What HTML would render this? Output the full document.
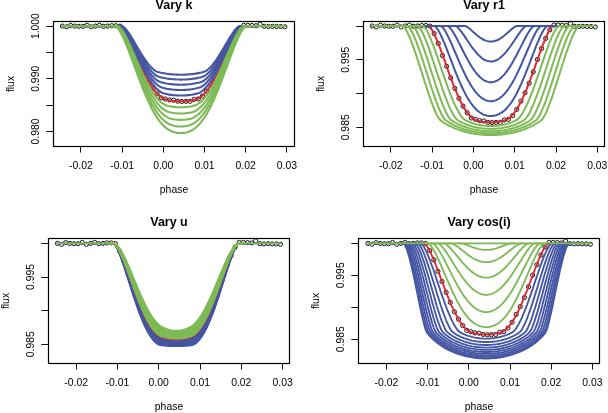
<!DOCTYPE html>
<html><head><meta charset="utf-8"><title>Vary parameters</title>
<style>html,body{margin:0;padding:0;background:#fff}svg{display:block}</style>
</head><body>
<svg width="608" height="413" viewBox="0 0 608 413">
<rect width="608" height="413" fill="#fff"/>
<g id="panel1">
<g fill="none" stroke="#000" stroke-width="0.9">
<circle cx="62.36" cy="26.10" r="2.1"/>
<circle cx="66.48" cy="26.80" r="2.1"/>
<circle cx="70.60" cy="25.48" r="2.1"/>
<circle cx="74.72" cy="26.10" r="2.1"/>
<circle cx="78.84" cy="26.33" r="2.1"/>
<circle cx="82.96" cy="26.33" r="2.1"/>
<circle cx="87.08" cy="25.32" r="2.1"/>
<circle cx="91.20" cy="26.80" r="2.1"/>
<circle cx="95.32" cy="26.10" r="2.1"/>
<circle cx="99.44" cy="25.32" r="2.1"/>
<circle cx="103.56" cy="26.33" r="2.1"/>
<circle cx="107.68" cy="26.10" r="2.1"/>
<circle cx="111.80" cy="25.71" r="2.1"/>
<circle cx="115.92" cy="25.71" r="2.1"/>
<circle cx="120.04" cy="26.17" r="2.1"/>
<circle cx="124.16" cy="32.02" r="2.1"/>
<circle cx="128.28" cy="39.67" r="2.1"/>
<circle cx="132.40" cy="49.16" r="2.1"/>
<circle cx="136.52" cy="57.54" r="2.1"/>
<circle cx="140.64" cy="66.51" r="2.1"/>
<circle cx="144.76" cy="74.78" r="2.1"/>
<circle cx="148.88" cy="82.51" r="2.1"/>
<circle cx="153.00" cy="88.62" r="2.1"/>
<circle cx="157.12" cy="93.86" r="2.1"/>
<circle cx="161.24" cy="97.86" r="2.1"/>
<circle cx="165.36" cy="98.96" r="2.1"/>
<circle cx="169.48" cy="99.92" r="2.1"/>
<circle cx="173.60" cy="100.19" r="2.1"/>
<circle cx="177.72" cy="101.23" r="2.1"/>
<circle cx="181.84" cy="101.49" r="2.1"/>
<circle cx="185.96" cy="101.34" r="2.1"/>
<circle cx="190.08" cy="101.28" r="2.1"/>
<circle cx="194.20" cy="99.41" r="2.1"/>
<circle cx="198.32" cy="98.94" r="2.1"/>
<circle cx="202.44" cy="96.02" r="2.1"/>
<circle cx="206.56" cy="91.18" r="2.1"/>
<circle cx="210.68" cy="84.69" r="2.1"/>
<circle cx="214.80" cy="78.23" r="2.1"/>
<circle cx="218.92" cy="70.75" r="2.1"/>
<circle cx="223.04" cy="61.89" r="2.1"/>
<circle cx="227.16" cy="52.24" r="2.1"/>
<circle cx="231.28" cy="43.67" r="2.1"/>
<circle cx="235.40" cy="35.79" r="2.1"/>
<circle cx="239.52" cy="29.08" r="2.1"/>
<circle cx="243.64" cy="25.32" r="2.1"/>
<circle cx="247.76" cy="25.32" r="2.1"/>
<circle cx="251.88" cy="25.48" r="2.1"/>
<circle cx="256.00" cy="25.71" r="2.1"/>
<circle cx="260.12" cy="24.15" r="2.1"/>
<circle cx="264.24" cy="26.33" r="2.1"/>
<circle cx="268.36" cy="26.49" r="2.1"/>
<circle cx="272.48" cy="26.33" r="2.1"/>
<circle cx="276.60" cy="26.49" r="2.1"/>
<circle cx="280.72" cy="26.49" r="2.1"/>
<circle cx="284.84" cy="26.80" r="2.1"/>
</g>
<g fill="none" stroke-linejoin="round" stroke-linecap="round">
<path d="M114.5,26.10 L115.9,26.10 L117.3,26.10 L118.7,26.13 L120.0,26.94 L121.4,28.34 L122.8,30.12 L124.2,32.20 L125.5,34.53 L126.9,37.04 L128.3,39.71 L129.7,42.51 L131.0,45.39 L132.4,48.36 L133.8,51.36 L135.1,54.39 L136.5,57.42 L137.9,60.44 L139.3,63.42 L140.6,66.36 L142.0,69.24 L143.4,72.04 L144.8,74.75 L146.1,77.36 L147.5,79.86 L148.9,82.25 L150.3,84.50 L151.6,86.62 L153.0,88.60 L154.4,90.44 L155.7,92.12 L157.1,93.65 L158.5,95.02 L159.9,96.24 L161.2,97.29 L162.6,98.18 L164.0,98.88 L165.4,99.34 L166.7,99.70 L168.1,100.02 L169.5,100.29 L170.9,100.54 L172.2,100.74 L173.6,100.92 L175.0,101.06 L176.3,101.17 L177.7,101.25 L179.1,101.30 L180.5,101.32 L181.8,101.32 L183.2,101.27 L184.6,101.20 L186.0,101.10 L187.3,100.97 L188.7,100.81 L190.1,100.62 L191.5,100.39 L192.8,100.13 L194.2,99.83 L195.6,99.48 L196.9,99.09 L198.3,98.47 L199.7,97.65 L201.1,96.66 L202.4,95.51 L203.8,94.19 L205.2,92.72 L206.6,91.10 L207.9,89.32 L209.3,87.40 L210.7,85.33 L212.1,83.12 L213.4,80.78 L214.8,78.33 L216.2,75.76 L217.5,73.08 L218.9,70.31 L220.3,67.47 L221.7,64.55 L223.0,61.58 L224.4,58.57 L225.8,55.54 L227.2,52.51 L228.5,49.49 L229.9,46.52 L231.3,43.60 L232.7,40.76 L234.0,38.04 L235.4,35.46 L236.8,33.06 L238.1,30.88 L239.5,28.98 L240.9,27.42 L242.3,26.35 L243.6,26.10 L245.0,26.10 L246.4,26.10" stroke="#DC2830" stroke-width="2.1"/>
<path d="M62.4,26.10 L63.7,26.10 L65.1,26.10 L66.5,26.10 L67.9,26.10 L69.2,26.10 L70.6,26.10 L72.0,26.10 L73.3,26.10 L74.7,26.10 L76.1,26.10 L77.5,26.10 L78.8,26.10 L80.2,26.10 L81.6,26.10 L83.0,26.10 L84.3,26.10 L85.7,26.10 L87.1,26.10 L88.5,26.10 L89.8,26.10 L91.2,26.10 L92.6,26.10 L93.9,26.10 L95.3,26.10 L96.7,26.10 L98.1,26.10 L99.4,26.10 L100.8,26.10 L102.2,26.10 L103.6,26.10 L104.9,26.10 L106.3,26.10 L107.7,26.10 L109.1,26.10 L110.4,26.10 L111.8,26.10 L113.2,26.10 L114.5,26.10 L115.9,26.10 L117.3,26.10 L118.7,26.10 L120.0,26.10 L121.4,26.10 L122.8,26.47 L124.2,27.50 L125.5,28.89 L126.9,30.55 L128.3,32.42 L129.7,34.44 L131.0,36.59 L132.4,38.83 L133.8,41.14 L135.1,43.47 L136.5,45.83 L137.9,48.18 L139.3,50.51 L140.6,52.79 L142.0,55.02 L143.4,57.17 L144.8,59.24 L146.1,61.20 L147.5,63.05 L148.9,64.78 L150.3,66.37 L151.6,67.81 L153.0,69.09 L154.4,70.19 L155.7,71.10 L157.1,71.68 L158.5,72.08 L159.9,72.43 L161.2,72.75 L162.6,73.03 L164.0,73.29 L165.4,73.53 L166.7,73.74 L168.1,73.92 L169.5,74.09 L170.9,74.24 L172.2,74.36 L173.6,74.47 L175.0,74.55 L176.3,74.62 L177.7,74.67 L179.1,74.70 L180.5,74.71 L181.8,74.71 L183.2,74.69 L184.6,74.64 L186.0,74.58 L187.3,74.50 L188.7,74.40 L190.1,74.29 L191.5,74.15 L192.8,73.99 L194.2,73.81 L195.6,73.61 L196.9,73.39 L198.3,73.14 L199.7,72.86 L201.1,72.55 L202.4,72.22 L203.8,71.84 L205.2,71.37 L206.6,70.57 L207.9,69.53 L209.3,68.31 L210.7,66.93 L212.1,65.40 L213.4,63.72 L214.8,61.92 L216.2,60.00 L217.5,57.97 L218.9,55.85 L220.3,53.64 L221.7,51.38 L223.0,49.07 L224.4,46.73 L225.8,44.37 L227.2,42.02 L228.5,39.70 L229.9,37.43 L231.3,35.24 L232.7,33.17 L234.0,31.24 L235.4,29.49 L236.8,27.99 L238.1,26.81 L239.5,26.11 L240.9,26.10 L242.3,26.10 L243.6,26.10 L245.0,26.10 L246.4,26.10 L247.8,26.10 L249.1,26.10 L250.5,26.10 L251.9,26.10 L253.3,26.10 L254.6,26.10 L256.0,26.10 L257.4,26.10 L258.7,26.10 L260.1,26.10 L261.5,26.10 L262.9,26.10 L264.2,26.10 L265.6,26.10 L267.0,26.10 L268.4,26.10 L269.7,26.10 L271.1,26.10 L272.5,26.10 L273.9,26.10 L275.2,26.10 L276.6,26.10 L278.0,26.10 L279.3,26.10 L280.7,26.10 L282.1,26.10 L283.5,26.10 L284.8,26.10" stroke="#4456A3" stroke-width="2.1"/>
<path d="M117.3,26.10 L118.7,26.10 L120.0,26.10 L121.4,26.15 L122.8,26.94 L124.2,28.20 L125.5,29.79 L126.9,31.63 L128.3,33.66 L129.7,35.84 L131.0,38.13 L132.4,40.52 L133.8,42.96 L135.1,45.44 L136.5,47.93 L137.9,50.41 L139.3,52.86 L140.6,55.28 L142.0,57.64 L143.4,59.91 L144.8,62.11 L146.1,64.21 L147.5,66.18 L148.9,68.05 L150.3,69.78 L151.6,71.36 L153.0,72.79 L154.4,74.07 L155.7,75.16 L157.1,76.05 L158.5,76.64 L159.9,77.04 L161.2,77.40 L162.6,77.72 L164.0,78.01 L165.4,78.27 L166.7,78.51 L168.1,78.71 L169.5,78.90 L170.9,79.06 L172.2,79.20 L173.6,79.32 L175.0,79.42 L176.3,79.49 L177.7,79.55 L179.1,79.57 L180.5,79.59 L181.8,79.59 L183.2,79.56 L184.6,79.51 L186.0,79.44 L187.3,79.35 L188.7,79.25 L190.1,79.12 L191.5,78.97 L192.8,78.79 L194.2,78.59 L195.6,78.36 L196.9,78.11 L198.3,77.83 L199.7,77.52 L201.1,77.18 L202.4,76.80 L203.8,76.32 L205.2,75.52 L206.6,74.51 L207.9,73.30 L209.3,71.93 L210.7,70.40 L212.1,68.72 L213.4,66.91 L214.8,64.97 L216.2,62.92 L217.5,60.76 L218.9,58.51 L220.3,56.18 L221.7,53.79 L223.0,51.35 L224.4,48.87 L225.8,46.38 L227.2,43.90 L228.5,41.44 L229.9,39.04 L231.3,36.70 L232.7,34.48 L234.0,32.38 L235.4,30.47 L236.8,28.78 L238.1,27.38 L239.5,26.38 L240.9,26.10 L242.3,26.10 L243.6,26.10" stroke="#4456A3" stroke-width="2.1"/>
<path d="M117.3,26.10 L118.7,26.10 L120.0,26.10 L121.4,26.47 L122.8,27.55 L124.2,29.03 L125.5,30.81 L126.9,32.82 L128.3,35.01 L129.7,37.35 L131.0,39.79 L132.4,42.32 L133.8,44.90 L135.1,47.51 L136.5,50.13 L137.9,52.75 L139.3,55.34 L140.6,57.88 L142.0,60.36 L143.4,62.78 L144.8,65.10 L146.1,67.32 L147.5,69.44 L148.9,71.43 L150.3,73.30 L151.6,75.02 L153.0,76.60 L154.4,78.01 L155.7,79.28 L157.1,80.35 L158.5,81.24 L159.9,81.85 L161.2,82.25 L162.6,82.61 L164.0,82.94 L165.4,83.23 L166.7,83.49 L168.1,83.72 L169.5,83.93 L170.9,84.11 L172.2,84.26 L173.6,84.39 L175.0,84.50 L176.3,84.58 L177.7,84.64 L179.1,84.68 L180.5,84.69 L181.8,84.69 L183.2,84.66 L184.6,84.60 L186.0,84.53 L187.3,84.43 L188.7,84.31 L190.1,84.17 L191.5,84.00 L192.8,83.80 L194.2,83.58 L195.6,83.33 L196.9,83.05 L198.3,82.74 L199.7,82.40 L201.1,82.01 L202.4,81.51 L203.8,80.72 L205.2,79.71 L206.6,78.52 L207.9,77.16 L209.3,75.63 L210.7,73.97 L212.1,72.16 L213.4,70.21 L214.8,68.14 L216.2,65.96 L217.5,63.67 L218.9,61.29 L220.3,58.83 L221.7,56.30 L223.0,53.73 L224.4,51.13 L225.8,48.51 L227.2,45.89 L228.5,43.29 L229.9,40.74 L231.3,38.26 L232.7,35.88 L234.0,33.64 L235.4,31.55 L236.8,29.68 L238.1,28.07 L239.5,26.82 L240.9,26.11 L242.3,26.10 L243.6,26.10 L245.0,26.10" stroke="#4456A3" stroke-width="2.1"/>
<path d="M115.9,26.10 L117.3,26.10 L118.7,26.10 L120.0,26.14 L121.4,26.95 L122.8,28.29 L124.2,29.97 L125.5,31.94 L126.9,34.12 L128.3,36.47 L129.7,38.96 L131.0,41.55 L132.4,44.22 L133.8,46.94 L135.1,49.69 L136.5,52.45 L137.9,55.20 L139.3,57.92 L140.6,60.59 L142.0,63.21 L143.4,65.74 L144.8,68.20 L146.1,70.56 L147.5,72.79 L148.9,74.92 L150.3,76.92 L151.6,78.77 L153.0,80.49 L154.4,82.06 L155.7,83.47 L157.1,84.71 L158.5,85.78 L159.9,86.66 L161.2,87.30 L162.6,87.71 L164.0,88.07 L165.4,88.40 L166.7,88.69 L168.1,88.94 L169.5,89.17 L170.9,89.37 L172.2,89.54 L173.6,89.68 L175.0,89.80 L176.3,89.89 L177.7,89.96 L179.1,90.00 L180.5,90.01 L181.8,90.01 L183.2,89.98 L184.6,89.92 L186.0,89.84 L187.3,89.73 L188.7,89.60 L190.1,89.44 L191.5,89.25 L192.8,89.03 L194.2,88.79 L195.6,88.51 L196.9,88.20 L198.3,87.85 L199.7,87.46 L201.1,86.95 L202.4,86.14 L203.8,85.14 L205.2,83.96 L206.6,82.61 L207.9,81.11 L209.3,79.45 L210.7,77.65 L212.1,75.70 L213.4,73.62 L214.8,71.42 L216.2,69.11 L217.5,66.69 L218.9,64.18 L220.3,61.60 L221.7,58.94 L223.0,56.24 L224.4,53.49 L225.8,50.74 L227.2,47.98 L228.5,45.25 L229.9,42.56 L231.3,39.93 L232.7,37.40 L234.0,34.99 L235.4,32.75 L236.8,30.70 L238.1,28.89 L239.5,27.41 L240.9,26.36 L242.3,26.10 L243.6,26.10 L245.0,26.10" stroke="#4456A3" stroke-width="2.1"/>
<path d="M115.9,26.10 L117.3,26.10 L118.7,26.10 L120.0,26.45 L121.4,27.58 L122.8,29.15 L124.2,31.04 L125.5,33.18 L126.9,35.52 L128.3,38.04 L129.7,40.68 L131.0,43.42 L132.4,46.23 L133.8,49.10 L135.1,51.98 L136.5,54.88 L137.9,57.76 L139.3,60.62 L140.6,63.42 L142.0,66.16 L143.4,68.84 L144.8,71.42 L146.1,73.90 L147.5,76.28 L148.9,78.53 L150.3,80.66 L151.6,82.65 L153.0,84.50 L154.4,86.19 L155.7,87.75 L157.1,89.13 L158.5,90.37 L159.9,91.43 L161.2,92.31 L162.6,92.99 L164.0,93.41 L165.4,93.77 L166.7,94.09 L168.1,94.38 L169.5,94.63 L170.9,94.85 L172.2,95.03 L173.6,95.19 L175.0,95.32 L176.3,95.42 L177.7,95.50 L179.1,95.54 L180.5,95.56 L181.8,95.55 L183.2,95.52 L184.6,95.45 L186.0,95.36 L187.3,95.25 L188.7,95.10 L190.1,94.92 L191.5,94.72 L192.8,94.47 L194.2,94.20 L195.6,93.89 L196.9,93.55 L198.3,93.16 L199.7,92.60 L201.1,91.79 L202.4,90.79 L203.8,89.62 L205.2,88.30 L206.6,86.81 L207.9,85.16 L209.3,83.36 L210.7,81.43 L212.1,79.36 L213.4,77.15 L214.8,74.82 L216.2,72.38 L217.5,69.83 L218.9,67.19 L220.3,64.47 L221.7,61.68 L223.0,58.85 L224.4,55.98 L225.8,53.09 L227.2,50.19 L228.5,47.32 L229.9,44.48 L231.3,41.71 L232.7,39.03 L234.0,36.47 L235.4,34.05 L236.8,31.82 L238.1,29.83 L239.5,28.13 L240.9,26.82 L242.3,26.10 L243.6,26.10 L245.0,26.10" stroke="#4456A3" stroke-width="2.1"/>
<path d="M62.4,26.10 L63.7,26.10 L65.1,26.10 L66.5,26.10 L67.9,26.10 L69.2,26.10 L70.6,26.10 L72.0,26.10 L73.3,26.10 L74.7,26.10 L76.1,26.10 L77.5,26.10 L78.8,26.10 L80.2,26.10 L81.6,26.10 L83.0,26.10 L84.3,26.10 L85.7,26.10 L87.1,26.10 L88.5,26.10 L89.8,26.10 L91.2,26.10 L92.6,26.10 L93.9,26.10 L95.3,26.10 L96.7,26.10 L98.1,26.10 L99.4,26.10 L100.8,26.10 L102.2,26.10 L103.6,26.10 L104.9,26.10 L106.3,26.10 L107.7,26.10 L109.1,26.10 L110.4,26.10 L111.8,26.10 L113.2,26.10 L114.5,26.10 L115.9,26.10 L117.3,26.10 L118.7,26.42 L120.0,27.59 L121.4,29.23 L122.8,31.22 L124.2,33.49 L125.5,35.99 L126.9,38.66 L128.3,41.50 L129.7,44.45 L131.0,47.49 L132.4,50.59 L133.8,53.74 L135.1,56.90 L136.5,60.08 L137.9,63.23 L139.3,66.35 L140.6,69.42 L142.0,72.43 L143.4,75.36 L144.8,78.20 L146.1,80.94 L147.5,83.57 L148.9,86.08 L150.3,88.47 L151.6,90.72 L153.0,92.82 L154.4,94.78 L155.7,96.60 L157.1,98.25 L158.5,99.77 L159.9,101.12 L161.2,102.31 L162.6,103.35 L164.0,104.24 L165.4,104.97 L166.7,105.50 L168.1,105.86 L169.5,106.16 L170.9,106.43 L172.2,106.66 L173.6,106.85 L175.0,107.01 L176.3,107.13 L177.7,107.22 L179.1,107.28 L180.5,107.30 L181.8,107.29 L183.2,107.25 L184.6,107.17 L186.0,107.06 L187.3,106.92 L188.7,106.73 L190.1,106.53 L191.5,106.27 L192.8,105.98 L194.2,105.64 L195.6,105.19 L196.9,104.54 L198.3,103.71 L199.7,102.73 L201.1,101.59 L202.4,100.29 L203.8,98.85 L205.2,97.25 L206.6,95.49 L207.9,93.58 L209.3,91.53 L210.7,89.33 L212.1,87.01 L213.4,84.54 L214.8,81.96 L216.2,79.26 L217.5,76.45 L218.9,73.55 L220.3,70.57 L221.7,67.52 L223.0,64.42 L224.4,61.28 L225.8,58.11 L227.2,54.94 L228.5,51.78 L229.9,48.66 L231.3,45.59 L232.7,42.60 L234.0,39.73 L235.4,36.98 L236.8,34.41 L238.1,32.05 L239.5,29.94 L240.9,28.17 L242.3,26.80 L243.6,26.10 L245.0,26.10 L246.4,26.10 L247.8,26.10 L249.1,26.10 L250.5,26.10 L251.9,26.10 L253.3,26.10 L254.6,26.10 L256.0,26.10 L257.4,26.10 L258.7,26.10 L260.1,26.10 L261.5,26.10 L262.9,26.10 L264.2,26.10 L265.6,26.10 L267.0,26.10 L268.4,26.10 L269.7,26.10 L271.1,26.10 L272.5,26.10 L273.9,26.10 L275.2,26.10 L276.6,26.10 L278.0,26.10 L279.3,26.10 L280.7,26.10 L282.1,26.10 L283.5,26.10 L284.8,26.10" stroke="#7DBA55" stroke-width="2.1"/>
<path d="M113.2,26.10 L114.5,26.10 L115.9,26.10 L117.3,26.11 L118.7,26.92 L120.0,28.36 L121.4,30.23 L122.8,32.42 L124.2,34.88 L125.5,37.55 L126.9,40.40 L128.3,43.39 L129.7,46.49 L131.0,49.68 L132.4,52.93 L133.8,56.22 L135.1,59.54 L136.5,62.84 L137.9,66.13 L139.3,69.39 L140.6,72.59 L142.0,75.73 L143.4,78.79 L144.8,81.76 L146.1,84.64 L147.5,87.39 L148.9,90.03 L150.3,92.54 L151.6,94.91 L153.0,97.15 L154.4,99.24 L155.7,101.18 L157.1,102.97 L158.5,104.60 L159.9,106.08 L161.2,107.41 L162.6,108.59 L164.0,109.62 L165.4,110.50 L166.7,111.23 L168.1,111.82 L169.5,112.23 L170.9,112.53 L172.2,112.78 L173.6,113.00 L175.0,113.17 L176.3,113.30 L177.7,113.40 L179.1,113.46 L180.5,113.48 L181.8,113.48 L183.2,113.43 L184.6,113.34 L186.0,113.22 L187.3,113.06 L188.7,112.87 L190.1,112.63 L191.5,112.35 L192.8,112.01 L194.2,111.47 L195.6,110.80 L196.9,109.97 L198.3,108.99 L199.7,107.87 L201.1,106.61 L202.4,105.18 L203.8,103.61 L205.2,101.87 L206.6,99.99 L207.9,97.96 L209.3,95.78 L210.7,93.46 L212.1,91.00 L213.4,88.41 L214.8,85.70 L216.2,82.87 L217.5,79.94 L218.9,76.90 L220.3,73.80 L221.7,70.61 L223.0,67.38 L224.4,64.09 L225.8,60.79 L227.2,57.48 L228.5,54.18 L229.9,50.91 L231.3,47.70 L232.7,44.56 L234.0,41.52 L235.4,38.62 L236.8,35.87 L238.1,33.33 L239.5,31.03 L240.9,29.03 L242.3,27.41 L243.6,26.31 L245.0,26.10 L246.4,26.10 L247.8,26.10" stroke="#7DBA55" stroke-width="2.1"/>
<path d="M113.2,26.10 L114.5,26.10 L115.9,26.10 L117.3,26.38 L118.7,27.57 L120.0,29.27 L121.4,31.36 L122.8,33.75 L124.2,36.39 L125.5,39.23 L126.9,42.24 L128.3,45.39 L129.7,48.65 L131.0,51.99 L132.4,55.39 L133.8,58.82 L135.1,62.27 L136.5,65.72 L137.9,69.15 L139.3,72.54 L140.6,75.88 L142.0,79.15 L143.4,82.35 L144.8,85.45 L146.1,88.45 L147.5,91.33 L148.9,94.10 L150.3,96.73 L151.6,99.23 L153.0,101.59 L154.4,103.80 L155.7,105.87 L157.1,107.77 L158.5,109.53 L159.9,111.14 L161.2,112.58 L162.6,113.89 L164.0,115.04 L165.4,116.05 L166.7,116.92 L168.1,117.66 L169.5,118.27 L170.9,118.75 L172.2,119.10 L173.6,119.33 L175.0,119.52 L176.3,119.67 L177.7,119.78 L179.1,119.85 L180.5,119.87 L181.8,119.86 L183.2,119.81 L184.6,119.71 L186.0,119.59 L187.3,119.41 L188.7,119.19 L190.1,118.90 L191.5,118.46 L192.8,117.90 L194.2,117.22 L195.6,116.39 L196.9,115.44 L198.3,114.35 L199.7,113.10 L201.1,111.70 L202.4,110.16 L203.8,108.46 L205.2,106.61 L206.6,104.60 L207.9,102.45 L209.3,100.14 L210.7,97.70 L212.1,95.12 L213.4,92.40 L214.8,89.56 L216.2,86.60 L217.5,83.54 L218.9,80.38 L220.3,77.13 L221.7,73.81 L223.0,70.44 L224.4,67.03 L225.8,63.59 L227.2,60.13 L228.5,56.69 L229.9,53.27 L231.3,49.91 L232.7,46.62 L234.0,43.43 L235.4,40.35 L236.8,37.44 L238.1,34.72 L239.5,32.23 L240.9,30.03 L242.3,28.17 L243.6,26.76 L245.0,26.10 L246.4,26.10 L247.8,26.10" stroke="#7DBA55" stroke-width="2.1"/>
<path d="M113.2,26.10 L114.5,26.10 L115.9,26.10 L117.3,26.88 L118.7,28.36 L120.0,30.30 L121.4,32.60 L122.8,35.18 L124.2,37.99 L125.5,41.01 L126.9,44.19 L128.3,47.50 L129.7,50.91 L131.0,54.40 L132.4,57.95 L133.8,61.53 L135.1,65.13 L136.5,68.72 L137.9,72.28 L139.3,75.81 L140.6,79.28 L142.0,82.69 L143.4,86.01 L144.8,89.24 L146.1,92.37 L147.5,95.38 L148.9,98.28 L150.3,101.04 L151.6,103.66 L153.0,106.14 L154.4,108.48 L155.7,110.66 L157.1,112.69 L158.5,114.56 L159.9,116.29 L161.2,117.86 L162.6,119.28 L164.0,120.55 L165.4,121.67 L166.7,122.66 L168.1,123.50 L169.5,124.23 L170.9,124.84 L172.2,125.33 L173.6,125.72 L175.0,126.02 L176.3,126.22 L177.7,126.36 L179.1,126.43 L180.5,126.46 L181.8,126.45 L183.2,126.39 L184.6,126.29 L186.0,126.10 L187.3,125.84 L188.7,125.49 L190.1,125.04 L191.5,124.48 L192.8,123.80 L194.2,123.00 L195.6,122.06 L196.9,120.99 L198.3,119.77 L199.7,118.41 L201.1,116.90 L202.4,115.24 L203.8,113.42 L205.2,111.45 L206.6,109.32 L207.9,107.05 L209.3,104.62 L210.7,102.06 L212.1,99.34 L213.4,96.50 L214.8,93.53 L216.2,90.45 L217.5,87.26 L218.9,83.96 L220.3,80.59 L221.7,77.14 L223.0,73.63 L224.4,70.07 L225.8,66.49 L227.2,62.90 L228.5,59.31 L229.9,55.75 L231.3,52.24 L232.7,48.79 L234.0,45.43 L235.4,42.21 L236.8,39.12 L238.1,36.22 L239.5,33.55 L240.9,31.13 L242.3,29.05 L243.6,27.38 L245.0,26.27 L246.4,26.10 L247.8,26.10 L249.1,26.10" stroke="#7DBA55" stroke-width="2.1"/>
<path d="M111.8,26.10 L113.2,26.10 L114.5,26.10 L115.9,26.34 L117.3,27.53 L118.7,29.28 L120.0,31.45 L121.4,33.95 L122.8,36.73 L124.2,39.72 L125.5,42.91 L126.9,46.25 L128.3,49.73 L129.7,53.29 L131.0,56.94 L132.4,60.63 L133.8,64.36 L135.1,68.09 L136.5,71.83 L137.9,75.53 L139.3,79.20 L140.6,82.81 L142.0,86.34 L143.4,89.80 L144.8,93.16 L146.1,96.42 L147.5,99.56 L148.9,102.58 L150.3,105.46 L151.6,108.21 L153.0,110.81 L154.4,113.26 L155.7,115.57 L157.1,117.71 L158.5,119.71 L159.9,121.55 L161.2,123.22 L162.6,124.75 L164.0,126.13 L165.4,127.36 L166.7,128.45 L168.1,129.41 L169.5,130.23 L170.9,130.92 L172.2,131.51 L173.6,131.99 L175.0,132.37 L176.3,132.66 L177.7,132.86 L179.1,132.98 L180.5,133.03 L181.8,133.01 L183.2,132.91 L184.6,132.73 L186.0,132.49 L187.3,132.15 L188.7,131.70 L190.1,131.16 L191.5,130.51 L192.8,129.73 L194.2,128.83 L195.6,127.79 L196.9,126.61 L198.3,125.30 L199.7,123.83 L201.1,122.20 L202.4,120.42 L203.8,118.49 L205.2,116.40 L206.6,114.16 L207.9,111.76 L209.3,109.21 L210.7,106.52 L212.1,103.69 L213.4,100.72 L214.8,97.63 L216.2,94.41 L217.5,91.09 L218.9,87.67 L220.3,84.16 L221.7,80.57 L223.0,76.93 L224.4,73.24 L225.8,69.51 L227.2,65.78 L228.5,62.05 L229.9,58.33 L231.3,54.67 L232.7,51.07 L234.0,47.56 L235.4,44.16 L236.8,40.91 L238.1,37.84 L239.5,34.97 L240.9,32.37 L242.3,30.06 L243.6,28.14 L245.0,26.71 L246.4,26.10 L247.8,26.10 L249.1,26.10" stroke="#7DBA55" stroke-width="2.1"/>
</g>
<rect x="53.5" y="21.5" width="241.0" height="125.0" fill="none" stroke="#000" stroke-width="1.2"/>
<g stroke="#000" stroke-width="1.2" fill="none">
<path d="M80.90,146.5 L286.90,146.5"/>
</g>
<g stroke="#111" stroke-width="1" fill="none">
<path d="M80.5,146.5 v6.0"/>
<path d="M122.5,146.5 v6.0"/>
<path d="M163.5,146.5 v6.0"/>
<path d="M204.5,146.5 v6.0"/>
<path d="M245.5,146.5 v6.0"/>
<path d="M286.5,146.5 v6.0"/>
<path d="M53.5,26.5 h-7.2"/>
<path d="M53.5,52.5 h-7.2"/>
<path d="M53.5,78.5 h-7.2"/>
<path d="M53.5,105.5 h-7.2"/>
<path d="M53.5,131.5 h-7.2"/>
</g>
<g font-family="Liberation Sans, sans-serif" font-size="10.4" fill="#000" text-anchor="middle">
<text x="80.90" y="168.5">-0.02</text>
<text x="122.10" y="168.5">-0.01</text>
<text x="163.30" y="168.5">0.00</text>
<text x="204.50" y="168.5">0.01</text>
<text x="245.70" y="168.5">0.02</text>
<text x="286.90" y="168.5">0.03</text>
<text x="174.0" y="192.8">phase</text>
<text transform="translate(38.9,26.10) rotate(-90)">1.000</text>
<text transform="translate(38.9,78.80) rotate(-90)">0.990</text>
<text transform="translate(38.9,131.50) rotate(-90)">0.980</text>
<text transform="translate(13.7,84.00) rotate(-90)">flux</text>
</g>
<text font-family="Liberation Sans, sans-serif" font-size="12.5" font-weight="bold" text-anchor="middle" x="174.0" y="9.3">Vary k</text>
</g>
<g id="panel2">
<g fill="none" stroke="#000" stroke-width="0.9">
<circle cx="372.21" cy="26.00" r="2.1"/>
<circle cx="376.34" cy="26.90" r="2.1"/>
<circle cx="380.47" cy="25.20" r="2.1"/>
<circle cx="384.61" cy="26.00" r="2.1"/>
<circle cx="388.74" cy="26.30" r="2.1"/>
<circle cx="392.87" cy="26.30" r="2.1"/>
<circle cx="397.00" cy="25.00" r="2.1"/>
<circle cx="401.12" cy="26.90" r="2.1"/>
<circle cx="405.25" cy="26.00" r="2.1"/>
<circle cx="409.38" cy="25.00" r="2.1"/>
<circle cx="413.51" cy="26.30" r="2.1"/>
<circle cx="417.64" cy="26.00" r="2.1"/>
<circle cx="421.77" cy="25.50" r="2.1"/>
<circle cx="425.90" cy="25.50" r="2.1"/>
<circle cx="430.03" cy="26.10" r="2.1"/>
<circle cx="434.16" cy="33.58" r="2.1"/>
<circle cx="438.29" cy="43.39" r="2.1"/>
<circle cx="442.42" cy="55.55" r="2.1"/>
<circle cx="446.56" cy="66.29" r="2.1"/>
<circle cx="450.68" cy="77.79" r="2.1"/>
<circle cx="454.81" cy="88.39" r="2.1"/>
<circle cx="458.94" cy="98.30" r="2.1"/>
<circle cx="463.07" cy="106.12" r="2.1"/>
<circle cx="467.20" cy="112.84" r="2.1"/>
<circle cx="471.33" cy="117.96" r="2.1"/>
<circle cx="475.46" cy="119.38" r="2.1"/>
<circle cx="479.59" cy="120.60" r="2.1"/>
<circle cx="483.72" cy="120.95" r="2.1"/>
<circle cx="487.85" cy="122.29" r="2.1"/>
<circle cx="491.98" cy="122.62" r="2.1"/>
<circle cx="496.11" cy="122.42" r="2.1"/>
<circle cx="500.24" cy="122.35" r="2.1"/>
<circle cx="504.38" cy="119.95" r="2.1"/>
<circle cx="508.50" cy="119.35" r="2.1"/>
<circle cx="512.63" cy="115.60" r="2.1"/>
<circle cx="516.76" cy="109.41" r="2.1"/>
<circle cx="520.89" cy="101.09" r="2.1"/>
<circle cx="525.02" cy="92.81" r="2.1"/>
<circle cx="529.15" cy="83.22" r="2.1"/>
<circle cx="533.28" cy="71.86" r="2.1"/>
<circle cx="537.41" cy="59.50" r="2.1"/>
<circle cx="541.54" cy="48.51" r="2.1"/>
<circle cx="545.67" cy="38.42" r="2.1"/>
<circle cx="549.80" cy="29.82" r="2.1"/>
<circle cx="553.93" cy="25.00" r="2.1"/>
<circle cx="558.06" cy="25.00" r="2.1"/>
<circle cx="562.19" cy="25.20" r="2.1"/>
<circle cx="566.32" cy="25.50" r="2.1"/>
<circle cx="570.45" cy="23.50" r="2.1"/>
<circle cx="574.59" cy="26.30" r="2.1"/>
<circle cx="578.71" cy="26.50" r="2.1"/>
<circle cx="582.85" cy="26.30" r="2.1"/>
<circle cx="586.98" cy="26.50" r="2.1"/>
<circle cx="591.11" cy="26.50" r="2.1"/>
<circle cx="595.23" cy="26.90" r="2.1"/>
</g>
<g fill="none" stroke-linejoin="round" stroke-linecap="round">
<path d="M424.5,26.00 L425.9,26.00 L427.3,26.00 L428.7,26.03 L430.0,27.08 L431.4,28.87 L432.8,31.16 L434.2,33.82 L435.5,36.80 L436.9,40.03 L438.3,43.44 L439.7,47.03 L441.0,50.73 L442.4,54.52 L443.8,58.37 L445.2,62.26 L446.6,66.14 L447.9,70.01 L449.3,73.83 L450.7,77.60 L452.1,81.29 L453.4,84.87 L454.8,88.35 L456.2,91.70 L457.6,94.90 L458.9,97.96 L460.3,100.85 L461.7,103.56 L463.1,106.10 L464.5,108.46 L465.8,110.61 L467.2,112.58 L468.6,114.33 L470.0,115.89 L471.3,117.24 L472.7,118.38 L474.1,119.28 L475.5,119.87 L476.8,120.33 L478.2,120.73 L479.6,121.09 L481.0,121.40 L482.3,121.66 L483.7,121.89 L485.1,122.07 L486.5,122.21 L487.9,122.32 L489.2,122.37 L490.6,122.40 L492.0,122.40 L493.4,122.34 L494.7,122.25 L496.1,122.12 L497.5,121.96 L498.9,121.75 L500.2,121.50 L501.6,121.21 L503.0,120.87 L504.4,120.49 L505.8,120.05 L507.1,119.55 L508.5,118.74 L509.9,117.69 L511.3,116.43 L512.6,114.95 L514.0,113.27 L515.4,111.38 L516.8,109.30 L518.1,107.02 L519.5,104.56 L520.9,101.91 L522.3,99.08 L523.6,96.08 L525.0,92.94 L526.4,89.64 L527.8,86.21 L529.2,82.66 L530.5,79.02 L531.9,75.28 L533.3,71.47 L534.7,67.61 L536.0,63.73 L537.4,59.85 L538.8,55.98 L540.2,52.17 L541.5,48.43 L542.9,44.79 L544.3,41.30 L545.7,38.00 L547.1,34.92 L548.4,32.13 L549.8,29.69 L551.2,27.69 L552.6,26.32 L553.9,26.00 L555.3,26.00 L556.7,26.00" stroke="#DC2830" stroke-width="2.0"/>
<path d="M372.2,26.00 L373.6,26.00 L375.0,26.00 L376.3,26.00 L377.7,26.00 L379.1,26.00 L380.5,26.00 L381.9,26.00 L383.2,26.00 L384.6,26.00 L386.0,26.00 L387.4,26.00 L388.7,26.00 L390.1,26.00 L391.5,26.00 L392.9,26.00 L394.2,26.00 L395.6,26.00 L397.0,26.00 L398.4,26.00 L399.7,26.00 L401.1,26.00 L402.5,26.00 L403.9,26.00 L405.3,26.00 L406.6,26.00 L408.0,26.00 L409.4,26.00 L410.8,26.00 L412.1,26.00 L413.5,26.00 L414.9,26.00 L416.3,26.00 L417.6,26.00 L419.0,26.00 L420.4,26.00 L421.8,26.00 L423.2,26.00 L424.5,26.00 L425.9,26.00 L427.3,26.00 L428.7,26.00 L430.0,26.00 L431.4,26.00 L432.8,26.00 L434.2,26.00 L435.5,26.00 L436.9,26.00 L438.3,26.00 L439.7,26.00 L441.0,26.00 L442.4,26.00 L443.8,26.00 L445.2,26.00 L446.6,26.00 L447.9,26.00 L449.3,26.00 L450.7,26.00 L452.1,26.00 L453.4,26.00 L454.8,26.00 L456.2,26.00 L457.6,26.00 L458.9,26.00 L460.3,26.00 L461.7,26.00 L463.1,26.00 L464.5,26.00 L465.8,26.25 L467.2,26.98 L468.6,27.94 L470.0,29.04 L471.3,30.22 L472.7,31.44 L474.1,32.67 L475.5,33.89 L476.8,35.06 L478.2,36.17 L479.6,37.21 L481.0,38.16 L482.3,39.00 L483.7,39.75 L485.1,40.36 L486.5,40.86 L487.9,41.22 L489.2,41.45 L490.6,41.54 L492.0,41.50 L493.4,41.32 L494.7,41.01 L496.1,40.56 L497.5,40.00 L498.9,39.30 L500.2,38.50 L501.6,37.59 L503.0,36.58 L504.4,35.49 L505.8,34.34 L507.1,33.14 L508.5,31.91 L509.9,30.68 L511.3,29.48 L512.6,28.35 L514.0,27.33 L515.4,26.49 L516.8,26.00 L518.1,26.00 L519.5,26.00 L520.9,26.00 L522.3,26.00 L523.6,26.00 L525.0,26.00 L526.4,26.00 L527.8,26.00 L529.2,26.00 L530.5,26.00 L531.9,26.00 L533.3,26.00 L534.7,26.00 L536.0,26.00 L537.4,26.00 L538.8,26.00 L540.2,26.00 L541.5,26.00 L542.9,26.00 L544.3,26.00 L545.7,26.00 L547.1,26.00 L548.4,26.00 L549.8,26.00 L551.2,26.00 L552.6,26.00 L553.9,26.00 L555.3,26.00 L556.7,26.00 L558.1,26.00 L559.4,26.00 L560.8,26.00 L562.2,26.00 L563.6,26.00 L564.9,26.00 L566.3,26.00 L567.7,26.00 L569.1,26.00 L570.5,26.00 L571.8,26.00 L573.2,26.00 L574.6,26.00 L576.0,26.00 L577.3,26.00 L578.7,26.00 L580.1,26.00 L581.5,26.00 L582.8,26.00 L584.2,26.00 L585.6,26.00 L587.0,26.00 L588.4,26.00 L589.7,26.00 L591.1,26.00 L592.5,26.00 L593.9,26.00 L595.2,26.00" stroke="#4456A3" stroke-width="2.0"/>
<path d="M452.1,26.00 L453.4,26.00 L454.8,26.00 L456.2,26.30 L457.6,27.31 L458.9,28.70 L460.3,30.33 L461.7,32.14 L463.1,34.07 L464.5,36.09 L465.8,38.14 L467.2,40.22 L468.6,42.27 L470.0,44.30 L471.3,46.27 L472.7,48.17 L474.1,49.98 L475.5,51.69 L476.8,53.29 L478.2,54.76 L479.6,56.11 L481.0,57.31 L482.3,58.37 L483.7,59.29 L485.1,60.04 L486.5,60.64 L487.9,61.08 L489.2,61.36 L490.6,61.47 L492.0,61.42 L493.4,61.20 L494.7,60.83 L496.1,60.29 L497.5,59.59 L498.9,58.74 L500.2,57.73 L501.6,56.58 L503.0,55.29 L504.4,53.86 L505.8,52.31 L507.1,50.64 L508.5,48.86 L509.9,46.99 L511.3,45.05 L512.6,43.05 L514.0,41.00 L515.4,38.93 L516.8,36.86 L518.1,34.83 L519.5,32.86 L520.9,31.00 L522.3,29.29 L523.6,27.80 L525.0,26.63 L526.4,26.00 L527.8,26.00 L529.2,26.00" stroke="#4456A3" stroke-width="2.0"/>
<path d="M443.8,26.00 L445.2,26.00 L446.6,26.00 L447.9,26.10 L449.3,27.10 L450.7,28.63 L452.1,30.52 L453.4,32.69 L454.8,35.05 L456.2,37.56 L457.6,40.18 L458.9,42.86 L460.3,45.58 L461.7,48.31 L463.1,51.03 L464.5,53.71 L465.8,56.34 L467.2,58.89 L468.6,61.37 L470.0,63.74 L471.3,65.99 L472.7,68.13 L474.1,70.13 L475.5,72.00 L476.8,73.72 L478.2,75.30 L479.6,76.71 L481.0,77.98 L482.3,79.08 L483.7,80.02 L485.1,80.79 L486.5,81.40 L487.9,81.86 L489.2,82.14 L490.6,82.25 L492.0,82.20 L493.4,81.98 L494.7,81.60 L496.1,81.05 L497.5,80.34 L498.9,79.45 L500.2,78.42 L501.6,77.21 L503.0,75.86 L504.4,74.34 L505.8,72.67 L507.1,70.86 L508.5,68.90 L509.9,66.82 L511.3,64.60 L512.6,62.28 L514.0,59.85 L515.4,57.32 L516.8,54.72 L518.1,52.05 L519.5,49.34 L520.9,46.62 L522.3,43.89 L523.6,41.19 L525.0,38.54 L526.4,35.98 L527.8,33.57 L529.2,31.32 L530.5,29.31 L531.9,27.63 L533.3,26.39 L534.7,26.00 L536.0,26.00 L537.4,26.00" stroke="#4456A3" stroke-width="2.0"/>
<path d="M436.9,26.00 L438.3,26.00 L439.7,26.00 L441.0,26.11 L442.4,27.20 L443.8,28.90 L445.2,31.01 L446.6,33.45 L447.9,36.13 L449.3,38.99 L450.7,41.99 L452.1,45.11 L453.4,48.29 L454.8,51.51 L456.2,54.75 L457.6,57.98 L458.9,61.18 L460.3,64.32 L461.7,67.39 L463.1,70.38 L464.5,73.28 L465.8,76.05 L467.2,78.72 L468.6,81.25 L470.0,83.64 L471.3,85.90 L472.7,87.99 L474.1,89.94 L475.5,91.74 L476.8,93.37 L478.2,94.85 L479.6,96.18 L481.0,97.34 L482.3,98.36 L483.7,99.22 L485.1,99.92 L486.5,100.47 L487.9,100.87 L489.2,101.12 L490.6,101.22 L492.0,101.18 L493.4,100.99 L494.7,100.64 L496.1,100.15 L497.5,99.50 L498.9,98.71 L500.2,97.75 L501.6,96.64 L503.0,95.38 L504.4,93.95 L505.8,92.38 L507.1,90.65 L508.5,88.76 L509.9,86.71 L511.3,84.51 L512.6,82.18 L514.0,79.70 L515.4,77.09 L516.8,74.35 L518.1,71.50 L519.5,68.54 L520.9,65.49 L522.3,62.38 L523.6,59.19 L525.0,55.98 L526.4,52.75 L527.8,49.51 L529.2,46.31 L530.5,43.17 L531.9,40.11 L533.3,37.19 L534.7,34.44 L536.0,31.91 L537.4,29.67 L538.8,27.79 L540.2,26.43 L541.5,26.00 L542.9,26.00 L544.3,26.00" stroke="#4456A3" stroke-width="2.0"/>
<path d="M431.4,26.00 L432.8,26.00 L434.2,26.00 L435.5,26.68 L436.9,28.24 L438.3,30.33 L439.7,32.80 L441.0,35.57 L442.4,38.58 L443.8,41.79 L445.2,45.14 L446.6,48.61 L447.9,52.15 L449.3,55.74 L450.7,59.36 L452.1,62.96 L453.4,66.55 L454.8,70.08 L456.2,73.55 L457.6,76.94 L458.9,80.23 L460.3,83.41 L461.7,86.46 L463.1,89.39 L464.5,92.17 L465.8,94.80 L467.2,97.27 L468.6,99.59 L470.0,101.74 L471.3,103.73 L472.7,105.54 L474.1,107.20 L475.5,108.71 L476.8,110.05 L478.2,111.23 L479.6,112.28 L481.0,113.17 L482.3,113.94 L483.7,114.57 L485.1,115.08 L486.5,115.47 L487.9,115.76 L489.2,115.93 L490.6,116.01 L492.0,115.98 L493.4,115.84 L494.7,115.60 L496.1,115.24 L497.5,114.78 L498.9,114.19 L500.2,113.48 L501.6,112.63 L503.0,111.65 L504.4,110.52 L505.8,109.24 L507.1,107.79 L508.5,106.20 L509.9,104.43 L511.3,102.51 L512.6,100.42 L514.0,98.17 L515.4,95.75 L516.8,93.19 L518.1,90.46 L519.5,87.59 L520.9,84.58 L522.3,81.45 L523.6,78.20 L525.0,74.85 L526.4,71.41 L527.8,67.89 L529.2,64.33 L530.5,60.73 L531.9,57.11 L533.3,53.51 L534.7,49.95 L536.0,46.45 L537.4,43.05 L538.8,39.78 L540.2,36.69 L541.5,33.81 L542.9,31.23 L544.3,28.99 L545.7,27.20 L547.1,26.08 L548.4,26.00 L549.8,26.00 L551.2,26.00" stroke="#4456A3" stroke-width="2.0"/>
<path d="M372.2,26.00 L373.6,26.00 L375.0,26.00 L376.3,26.00 L377.7,26.00 L379.1,26.00 L380.5,26.00 L381.9,26.00 L383.2,26.00 L384.6,26.00 L386.0,26.00 L387.4,26.00 L388.7,26.00 L390.1,26.00 L391.5,26.00 L392.9,26.00 L394.2,26.00 L395.6,26.00 L397.0,26.00 L398.4,26.00 L399.7,26.00 L401.1,26.00 L402.5,26.00 L403.9,26.00 L405.3,26.00 L406.6,26.00 L408.0,26.00 L409.4,26.00 L410.8,26.00 L412.1,26.00 L413.5,26.00 L414.9,26.00 L416.3,26.00 L417.6,26.00 L419.0,26.00 L420.4,26.00 L421.8,26.00 L423.2,26.07 L424.5,27.20 L425.9,29.05 L427.3,31.41 L428.7,34.16 L430.0,37.22 L431.4,40.55 L432.8,44.09 L434.2,47.80 L435.5,51.66 L436.9,55.61 L438.3,59.63 L439.7,63.68 L441.0,67.77 L442.4,71.84 L443.8,75.88 L445.2,79.87 L446.6,83.78 L447.9,87.60 L449.3,91.30 L450.7,94.86 L452.1,98.29 L453.4,101.54 L454.8,104.62 L456.2,107.49 L457.6,110.16 L458.9,112.61 L460.3,114.80 L461.7,116.73 L463.1,118.36 L464.5,119.58 L465.8,120.34 L467.2,121.01 L468.6,121.64 L470.0,122.20 L471.3,122.72 L472.7,123.19 L474.1,123.62 L475.5,124.01 L476.8,124.36 L478.2,124.67 L479.6,124.95 L481.0,125.20 L482.3,125.41 L483.7,125.59 L485.1,125.73 L486.5,125.85 L487.9,125.93 L489.2,125.99 L490.6,126.00 L492.0,126.00 L493.4,125.95 L494.7,125.88 L496.1,125.78 L497.5,125.65 L498.9,125.48 L500.2,125.28 L501.6,125.05 L503.0,124.79 L504.4,124.48 L505.8,124.15 L507.1,123.77 L508.5,123.36 L509.9,122.90 L511.3,122.40 L512.6,121.86 L514.0,121.26 L515.4,120.60 L516.8,119.88 L518.1,118.88 L519.5,117.39 L520.9,115.57 L522.3,113.47 L523.6,111.12 L525.0,108.54 L526.4,105.74 L527.8,102.74 L529.2,99.55 L530.5,96.19 L531.9,92.67 L533.3,89.02 L534.7,85.24 L536.0,81.36 L537.4,77.41 L538.8,73.38 L540.2,69.32 L541.5,65.24 L542.9,61.17 L544.3,57.12 L545.7,53.14 L547.1,49.26 L548.4,45.48 L549.8,41.88 L551.2,38.46 L552.6,35.29 L553.9,32.41 L555.3,29.89 L556.7,27.83 L558.1,26.38 L559.4,26.00 L560.8,26.00 L562.2,26.00 L563.6,26.00 L564.9,26.00 L566.3,26.00 L567.7,26.00 L569.1,26.00 L570.5,26.00 L571.8,26.00 L573.2,26.00 L574.6,26.00 L576.0,26.00 L577.3,26.00 L578.7,26.00 L580.1,26.00 L581.5,26.00 L582.8,26.00 L584.2,26.00 L585.6,26.00 L587.0,26.00 L588.4,26.00 L589.7,26.00 L591.1,26.00 L592.5,26.00 L593.9,26.00 L595.2,26.00" stroke="#7DBA55" stroke-width="2.0"/>
<path d="M413.5,26.00 L414.9,26.00 L416.3,26.00 L417.6,26.02 L419.0,27.04 L420.4,28.84 L421.8,31.16 L423.2,33.91 L424.5,36.97 L425.9,40.32 L427.3,43.90 L428.7,47.67 L430.0,51.58 L431.4,55.61 L432.8,59.73 L434.2,63.91 L435.5,68.12 L436.9,72.33 L438.3,76.53 L439.7,80.67 L441.0,84.75 L442.4,88.75 L443.8,92.63 L445.2,96.37 L446.6,99.97 L447.9,103.40 L449.3,106.62 L450.7,109.63 L452.1,112.40 L453.4,114.89 L454.8,117.07 L456.2,118.85 L457.6,120.01 L458.9,120.86 L460.3,121.65 L461.7,122.37 L463.1,123.04 L464.5,123.66 L465.8,124.23 L467.2,124.77 L468.6,125.26 L470.0,125.72 L471.3,126.14 L472.7,126.53 L474.1,126.88 L475.5,127.21 L476.8,127.50 L478.2,127.76 L479.6,128.00 L481.0,128.20 L482.3,128.38 L483.7,128.54 L485.1,128.66 L486.5,128.75 L487.9,128.82 L489.2,128.87 L490.6,128.88 L492.0,128.88 L493.4,128.85 L494.7,128.79 L496.1,128.70 L497.5,128.58 L498.9,128.44 L500.2,128.27 L501.6,128.08 L503.0,127.85 L504.4,127.60 L505.8,127.32 L507.1,127.01 L508.5,126.67 L509.9,126.29 L511.3,125.88 L512.6,125.44 L514.0,124.96 L515.4,124.44 L516.8,123.89 L518.1,123.28 L519.5,122.63 L520.9,121.93 L522.3,121.17 L523.6,120.34 L525.0,119.39 L526.4,117.80 L527.8,115.76 L529.2,113.38 L530.5,110.71 L531.9,107.79 L533.3,104.64 L534.7,101.30 L536.0,97.77 L537.4,94.07 L538.8,90.23 L540.2,86.28 L541.5,82.23 L542.9,78.11 L544.3,73.93 L545.7,69.72 L547.1,65.50 L548.4,61.31 L549.8,57.17 L551.2,53.10 L552.6,49.13 L553.9,45.31 L555.3,41.66 L556.7,38.22 L558.1,35.04 L559.4,32.16 L560.8,29.67 L562.2,27.65 L563.6,26.28 L564.9,26.00 L566.3,26.00 L567.7,26.00" stroke="#7DBA55" stroke-width="2.0"/>
<path d="M409.4,26.00 L410.8,26.00 L412.1,26.00 L413.5,26.70 L414.9,28.35 L416.3,30.56 L417.6,33.20 L419.0,36.20 L420.4,39.50 L421.8,43.05 L423.2,46.80 L424.5,50.71 L425.9,54.77 L427.3,58.92 L428.7,63.16 L430.0,67.44 L431.4,71.74 L432.8,76.02 L434.2,80.29 L435.5,84.50 L436.9,88.63 L438.3,92.66 L439.7,96.56 L441.0,100.31 L442.4,103.89 L443.8,107.27 L445.2,110.41 L446.6,113.29 L447.9,115.85 L449.3,118.04 L450.7,119.65 L452.1,120.64 L453.4,121.53 L454.8,122.36 L456.2,123.14 L457.6,123.86 L458.9,124.53 L460.3,125.15 L461.7,125.74 L463.1,126.30 L464.5,126.81 L465.8,127.29 L467.2,127.74 L468.6,128.16 L470.0,128.55 L471.3,128.90 L472.7,129.24 L474.1,129.54 L475.5,129.82 L476.8,130.08 L478.2,130.30 L479.6,130.51 L481.0,130.69 L482.3,130.84 L483.7,130.97 L485.1,131.08 L486.5,131.16 L487.9,131.23 L489.2,131.27 L490.6,131.28 L492.0,131.27 L493.4,131.24 L494.7,131.19 L496.1,131.11 L497.5,131.02 L498.9,130.89 L500.2,130.75 L501.6,130.58 L503.0,130.38 L504.4,130.17 L505.8,129.92 L507.1,129.65 L508.5,129.36 L509.9,129.04 L511.3,128.69 L512.6,128.31 L514.0,127.91 L515.4,127.47 L516.8,127.00 L518.1,126.50 L519.5,125.96 L520.9,125.38 L522.3,124.77 L523.6,124.12 L525.0,123.41 L526.4,122.66 L527.8,121.86 L529.2,120.99 L530.5,120.04 L531.9,118.74 L533.3,116.73 L534.7,114.30 L536.0,111.54 L537.4,108.49 L538.8,105.20 L540.2,101.70 L541.5,98.01 L542.9,94.16 L544.3,90.17 L545.7,86.08 L547.1,81.90 L548.4,77.65 L549.8,73.37 L551.2,69.07 L552.6,64.78 L553.9,60.53 L555.3,56.33 L556.7,52.24 L558.1,48.26 L559.4,44.44 L560.8,40.82 L562.2,37.42 L563.6,34.31 L564.9,31.51 L566.3,29.13 L567.7,27.25 L569.1,26.09 L570.5,26.00 L571.8,26.00 L573.2,26.00" stroke="#7DBA55" stroke-width="2.0"/>
<path d="M403.9,26.00 L405.3,26.00 L406.6,26.00 L408.0,26.31 L409.4,27.69 L410.8,29.71 L412.1,32.19 L413.5,35.06 L414.9,38.25 L416.3,41.70 L417.6,45.38 L419.0,49.24 L420.4,53.26 L421.8,57.40 L423.2,61.64 L424.5,65.94 L425.9,70.28 L427.3,74.63 L428.7,78.97 L430.0,83.26 L431.4,87.50 L432.8,91.65 L434.2,95.69 L435.5,99.58 L436.9,103.30 L438.3,106.83 L439.7,110.13 L441.0,113.15 L442.4,115.86 L443.8,118.15 L445.2,119.77 L446.6,120.81 L447.9,121.76 L449.3,122.65 L450.7,123.46 L452.1,124.23 L453.4,124.95 L454.8,125.64 L456.2,126.27 L457.6,126.88 L458.9,127.44 L460.3,127.98 L461.7,128.48 L463.1,128.96 L464.5,129.40 L465.8,129.81 L467.2,130.21 L468.6,130.57 L470.0,130.91 L471.3,131.22 L472.7,131.51 L474.1,131.78 L475.5,132.03 L476.8,132.25 L478.2,132.45 L479.6,132.63 L481.0,132.79 L482.3,132.93 L483.7,133.04 L485.1,133.14 L486.5,133.22 L487.9,133.27 L489.2,133.30 L490.6,133.32 L492.0,133.31 L493.4,133.28 L494.7,133.24 L496.1,133.17 L497.5,133.08 L498.9,132.97 L500.2,132.84 L501.6,132.69 L503.0,132.52 L504.4,132.33 L505.8,132.11 L507.1,131.88 L508.5,131.62 L509.9,131.34 L511.3,131.03 L512.6,130.70 L514.0,130.35 L515.4,129.97 L516.8,129.56 L518.1,129.12 L519.5,128.66 L520.9,128.17 L522.3,127.65 L523.6,127.10 L525.0,126.51 L526.4,125.88 L527.8,125.22 L529.2,124.51 L530.5,123.76 L531.9,122.96 L533.3,122.10 L534.7,121.18 L536.0,120.18 L537.4,118.88 L538.8,116.79 L540.2,114.23 L541.5,111.32 L542.9,108.12 L544.3,104.67 L545.7,101.02 L547.1,97.18 L548.4,93.20 L549.8,89.09 L551.2,84.88 L552.6,80.61 L553.9,76.28 L555.3,71.93 L556.7,67.58 L558.1,63.27 L559.4,59.01 L560.8,54.82 L562.2,50.75 L563.6,46.83 L564.9,43.07 L566.3,39.53 L567.7,36.24 L569.1,33.24 L570.5,30.60 L571.8,28.39 L573.2,26.74 L574.6,26.00 L576.0,26.00 L577.3,26.00" stroke="#7DBA55" stroke-width="2.0"/>
<path d="M398.4,26.00 L399.7,26.00 L401.1,26.00 L402.5,26.01 L403.9,26.98 L405.3,28.73 L406.6,30.99 L408.0,33.67 L409.4,36.70 L410.8,40.01 L412.1,43.57 L413.5,47.33 L414.9,51.26 L416.3,55.35 L417.6,59.54 L419.0,63.82 L420.4,68.15 L421.8,72.52 L423.2,76.89 L424.5,81.25 L425.9,85.56 L427.3,89.80 L428.7,93.94 L430.0,97.96 L431.4,101.83 L432.8,105.52 L434.2,108.99 L435.5,112.19 L436.9,115.10 L438.3,117.60 L439.7,119.52 L441.0,120.63 L442.4,121.64 L443.8,122.57 L445.2,123.44 L446.6,124.27 L447.9,125.04 L449.3,125.76 L450.7,126.45 L452.1,127.10 L453.4,127.72 L454.8,128.30 L456.2,128.85 L457.6,129.38 L458.9,129.87 L460.3,130.33 L461.7,130.77 L463.1,131.19 L464.5,131.58 L465.8,131.95 L467.2,132.29 L468.6,132.62 L470.0,132.92 L471.3,133.20 L472.7,133.46 L474.1,133.70 L475.5,133.92 L476.8,134.12 L478.2,134.29 L479.6,134.45 L481.0,134.60 L482.3,134.72 L483.7,134.83 L485.1,134.91 L486.5,134.98 L487.9,135.02 L489.2,135.05 L490.6,135.07 L492.0,135.07 L493.4,135.04 L494.7,135.00 L496.1,134.94 L497.5,134.86 L498.9,134.76 L500.2,134.65 L501.6,134.51 L503.0,134.36 L504.4,134.19 L505.8,133.99 L507.1,133.78 L508.5,133.55 L509.9,133.30 L511.3,133.03 L512.6,132.74 L514.0,132.42 L515.4,132.08 L516.8,131.73 L518.1,131.34 L519.5,130.94 L520.9,130.50 L522.3,130.05 L523.6,129.57 L525.0,129.05 L526.4,128.51 L527.8,127.94 L529.2,127.34 L530.5,126.70 L531.9,126.03 L533.3,125.32 L534.7,124.57 L536.0,123.76 L537.4,122.91 L538.8,122.00 L540.2,121.03 L541.5,119.96 L542.9,118.41 L544.3,116.10 L545.7,113.34 L547.1,110.24 L548.4,106.87 L549.8,103.25 L551.2,99.45 L552.6,95.48 L553.9,91.39 L555.3,87.18 L556.7,82.89 L558.1,78.55 L559.4,74.18 L560.8,69.80 L562.2,65.46 L563.6,61.16 L564.9,56.93 L566.3,52.80 L567.7,48.80 L569.1,44.97 L570.5,41.33 L571.8,37.92 L573.2,34.78 L574.6,31.97 L576.0,29.54 L577.3,27.57 L578.7,26.26 L580.1,26.00 L581.5,26.00 L582.8,26.00" stroke="#7DBA55" stroke-width="2.0"/>
</g>
<rect x="363.5" y="21.5" width="241.0" height="125.0" fill="none" stroke="#000" stroke-width="1.2"/>
<g stroke="#000" stroke-width="1.2" fill="none">
<path d="M390.80,146.5 L597.30,146.5"/>
</g>
<g stroke="#111" stroke-width="1" fill="none">
<path d="M390.5,146.5 v6.0"/>
<path d="M432.5,146.5 v6.0"/>
<path d="M473.5,146.5 v6.0"/>
<path d="M514.5,146.5 v6.0"/>
<path d="M556.5,146.5 v6.0"/>
<path d="M597.5,146.5 v6.0"/>
<path d="M363.5,26.5 h-7.2"/>
<path d="M363.5,59.5 h-7.2"/>
<path d="M363.5,93.5 h-7.2"/>
<path d="M363.5,127.5 h-7.2"/>
</g>
<g font-family="Liberation Sans, sans-serif" font-size="10.4" fill="#000" text-anchor="middle">
<text x="390.80" y="168.5">-0.02</text>
<text x="432.10" y="168.5">-0.01</text>
<text x="473.40" y="168.5">0.00</text>
<text x="514.70" y="168.5">0.01</text>
<text x="556.00" y="168.5">0.02</text>
<text x="597.30" y="168.5">0.03</text>
<text x="484.0" y="192.8">phase</text>
<text transform="translate(348.9,59.77) rotate(-90)">0.995</text>
<text transform="translate(348.9,127.31) rotate(-90)">0.985</text>
<text transform="translate(323.7,84.00) rotate(-90)">flux</text>
</g>
<text font-family="Liberation Sans, sans-serif" font-size="12.5" font-weight="bold" text-anchor="middle" x="484.0" y="9.3">Vary r1</text>
</g>
<g id="panel3">
<g fill="none" stroke="#000" stroke-width="0.9">
<circle cx="57.51" cy="243.40" r="2.1"/>
<circle cx="61.64" cy="244.30" r="2.1"/>
<circle cx="65.77" cy="242.60" r="2.1"/>
<circle cx="69.91" cy="243.40" r="2.1"/>
<circle cx="74.03" cy="243.70" r="2.1"/>
<circle cx="78.16" cy="243.70" r="2.1"/>
<circle cx="82.29" cy="242.41" r="2.1"/>
<circle cx="86.42" cy="244.30" r="2.1"/>
<circle cx="90.55" cy="243.40" r="2.1"/>
<circle cx="94.68" cy="242.41" r="2.1"/>
<circle cx="98.81" cy="243.70" r="2.1"/>
<circle cx="102.94" cy="243.40" r="2.1"/>
<circle cx="107.07" cy="242.90" r="2.1"/>
<circle cx="111.20" cy="242.90" r="2.1"/>
<circle cx="115.33" cy="243.50" r="2.1"/>
<circle cx="119.46" cy="250.94" r="2.1"/>
<circle cx="123.59" cy="260.70" r="2.1"/>
<circle cx="127.72" cy="272.80" r="2.1"/>
<circle cx="131.85" cy="283.49" r="2.1"/>
<circle cx="135.98" cy="294.93" r="2.1"/>
<circle cx="140.11" cy="305.48" r="2.1"/>
<circle cx="144.25" cy="315.34" r="2.1"/>
<circle cx="148.37" cy="323.12" r="2.1"/>
<circle cx="152.50" cy="329.80" r="2.1"/>
<circle cx="156.63" cy="334.90" r="2.1"/>
<circle cx="160.76" cy="336.31" r="2.1"/>
<circle cx="164.89" cy="337.53" r="2.1"/>
<circle cx="169.02" cy="337.87" r="2.1"/>
<circle cx="173.15" cy="339.20" r="2.1"/>
<circle cx="177.28" cy="339.53" r="2.1"/>
<circle cx="181.41" cy="339.34" r="2.1"/>
<circle cx="185.54" cy="339.27" r="2.1"/>
<circle cx="189.67" cy="336.88" r="2.1"/>
<circle cx="193.81" cy="336.28" r="2.1"/>
<circle cx="197.94" cy="332.55" r="2.1"/>
<circle cx="202.06" cy="326.39" r="2.1"/>
<circle cx="206.19" cy="318.11" r="2.1"/>
<circle cx="210.32" cy="309.87" r="2.1"/>
<circle cx="214.45" cy="300.33" r="2.1"/>
<circle cx="218.58" cy="289.03" r="2.1"/>
<circle cx="222.71" cy="276.73" r="2.1"/>
<circle cx="226.84" cy="265.80" r="2.1"/>
<circle cx="230.97" cy="255.76" r="2.1"/>
<circle cx="235.10" cy="247.20" r="2.1"/>
<circle cx="239.23" cy="242.41" r="2.1"/>
<circle cx="243.36" cy="242.41" r="2.1"/>
<circle cx="247.49" cy="242.60" r="2.1"/>
<circle cx="251.62" cy="242.90" r="2.1"/>
<circle cx="255.75" cy="240.91" r="2.1"/>
<circle cx="259.88" cy="243.70" r="2.1"/>
<circle cx="264.01" cy="243.90" r="2.1"/>
<circle cx="268.14" cy="243.70" r="2.1"/>
<circle cx="272.27" cy="243.90" r="2.1"/>
<circle cx="276.40" cy="243.90" r="2.1"/>
<circle cx="280.53" cy="244.30" r="2.1"/>
</g>
<g fill="none" stroke-linejoin="round" stroke-linecap="round">
<path d="M57.5,243.40 L58.9,243.40 L60.3,243.40 L61.6,243.40 L63.0,243.40 L64.4,243.40 L65.8,243.40 L67.2,243.40 L68.5,243.40 L69.9,243.40 L71.3,243.40 L72.7,243.40 L74.0,243.40 L75.4,243.40 L76.8,243.40 L78.2,243.40 L79.5,243.40 L80.9,243.40 L82.3,243.40 L83.7,243.40 L85.0,243.40 L86.4,243.40 L87.8,243.40 L89.2,243.40 L90.6,243.40 L91.9,243.40 L93.3,243.40 L94.7,243.40 L96.1,243.40 L97.4,243.40 L98.8,243.40 L100.2,243.40 L101.6,243.40 L102.9,243.40 L104.3,243.40 L105.7,243.40 L107.1,243.40 L108.5,243.40 L109.8,243.40 L111.2,243.40 L112.6,243.40 L114.0,243.45 L115.3,244.85 L116.7,247.17 L118.1,250.05 L119.5,253.35 L120.8,256.98 L122.2,260.85 L123.6,264.89 L125.0,269.09 L126.3,273.37 L127.7,277.71 L129.1,282.08 L130.5,286.44 L131.9,290.77 L133.2,295.04 L134.6,299.22 L136.0,303.30 L137.4,307.28 L138.7,311.10 L140.1,314.77 L141.5,318.29 L142.9,321.61 L144.2,324.75 L145.6,327.69 L147.0,330.42 L148.4,332.94 L149.8,335.25 L151.1,337.33 L152.5,339.19 L153.9,340.81 L155.3,342.21 L156.6,343.38 L158.0,344.30 L159.4,344.96 L160.8,345.24 L162.1,345.41 L163.5,345.56 L164.9,345.69 L166.3,345.81 L167.6,345.91 L169.0,345.99 L170.4,346.06 L171.8,346.11 L173.2,346.15 L174.5,346.17 L175.9,346.18 L177.3,346.18 L178.7,346.16 L180.0,346.13 L181.4,346.08 L182.8,346.01 L184.2,345.94 L185.5,345.85 L186.9,345.74 L188.3,345.61 L189.7,345.48 L191.1,345.31 L192.4,345.12 L193.8,344.58 L195.2,343.75 L196.6,342.68 L197.9,341.37 L199.3,339.83 L200.7,338.06 L202.1,336.07 L203.4,333.85 L204.8,331.41 L206.2,328.76 L207.6,325.89 L208.9,322.83 L210.3,319.57 L211.7,316.13 L213.1,312.52 L214.5,308.74 L215.8,304.83 L217.2,300.79 L218.6,296.64 L220.0,292.39 L221.3,288.09 L222.7,283.74 L224.1,279.37 L225.5,275.02 L226.8,270.71 L228.2,266.48 L229.6,262.36 L231.0,258.43 L232.4,254.70 L233.7,251.27 L235.1,248.21 L236.5,245.65 L237.9,243.83 L239.2,243.40 L240.6,243.40 L242.0,243.40 L243.4,243.40 L244.7,243.40 L246.1,243.40 L247.5,243.40 L248.9,243.40 L250.2,243.40 L251.6,243.40 L253.0,243.40 L254.4,243.40 L255.8,243.40 L257.1,243.40 L258.5,243.40 L259.9,243.40 L261.3,243.40 L262.6,243.40 L264.0,243.40 L265.4,243.40 L266.8,243.40 L268.1,243.40 L269.5,243.40 L270.9,243.40 L272.3,243.40 L273.7,243.40 L275.0,243.40 L276.4,243.40 L277.8,243.40 L279.2,243.40 L280.5,243.40" stroke="#4456A3" stroke-width="1.8"/>
<path d="M109.8,243.40 L111.2,243.40 L112.6,243.40 L114.0,243.45 L115.3,244.82 L116.7,247.11 L118.1,249.94 L119.5,253.19 L120.8,256.76 L122.2,260.59 L123.6,264.58 L125.0,268.73 L126.3,272.96 L127.7,277.27 L129.1,281.59 L130.5,285.92 L131.9,290.21 L133.2,294.45 L134.6,298.60 L136.0,302.66 L137.4,306.61 L138.7,310.41 L140.1,314.07 L141.5,317.57 L142.9,320.88 L144.2,324.02 L145.6,326.96 L147.0,329.68 L148.4,332.20 L149.8,334.52 L151.1,336.60 L152.5,338.46 L153.9,340.09 L155.3,341.50 L156.6,342.69 L158.0,343.62 L159.4,344.30 L160.8,344.61 L162.1,344.80 L163.5,344.97 L164.9,345.12 L166.3,345.24 L167.6,345.36 L169.0,345.45 L170.4,345.53 L171.8,345.58 L173.2,345.63 L174.5,345.65 L175.9,345.66 L177.3,345.67 L178.7,345.64 L180.0,345.60 L181.4,345.55 L182.8,345.48 L184.2,345.39 L185.5,345.29 L186.9,345.17 L188.3,345.03 L189.7,344.87 L191.1,344.68 L192.4,344.47 L193.8,343.91 L195.2,343.07 L196.6,341.98 L197.9,340.66 L199.3,339.11 L200.7,337.33 L202.1,335.33 L203.4,333.11 L204.8,330.67 L206.2,328.02 L207.6,325.16 L208.9,322.10 L210.3,318.85 L211.7,315.42 L213.1,311.83 L214.5,308.07 L215.8,304.18 L217.2,300.16 L218.6,296.04 L220.0,291.82 L221.3,287.55 L222.7,283.24 L224.1,278.91 L225.5,274.60 L226.8,270.33 L228.2,266.15 L229.6,262.08 L231.0,258.19 L232.4,254.52 L233.7,251.14 L235.1,248.13 L236.5,245.61 L237.9,243.82 L239.2,243.40 L240.6,243.40 L242.0,243.40" stroke="#4456A3" stroke-width="1.8"/>
<path d="M109.8,243.40 L111.2,243.40 L112.6,243.40 L114.0,243.45 L115.3,244.79 L116.7,247.04 L118.1,249.82 L119.5,253.03 L120.8,256.55 L122.2,260.32 L123.6,264.27 L125.0,268.37 L126.3,272.55 L127.7,276.82 L129.1,281.10 L130.5,285.39 L131.9,289.64 L133.2,293.85 L134.6,297.97 L136.0,302.01 L137.4,305.93 L138.7,309.72 L140.1,313.36 L141.5,316.84 L142.9,320.15 L144.2,323.27 L145.6,326.21 L147.0,328.93 L148.4,331.45 L149.8,333.77 L151.1,335.85 L152.5,337.73 L153.9,339.37 L155.3,340.79 L156.6,341.98 L158.0,342.94 L159.4,343.63 L160.8,343.96 L162.1,344.17 L163.5,344.36 L164.9,344.53 L166.3,344.67 L167.6,344.80 L169.0,344.90 L170.4,344.99 L171.8,345.05 L173.2,345.10 L174.5,345.13 L175.9,345.14 L177.3,345.14 L178.7,345.11 L180.0,345.07 L181.4,345.01 L182.8,344.93 L184.2,344.84 L185.5,344.72 L186.9,344.59 L188.3,344.43 L189.7,344.25 L191.1,344.05 L192.4,343.81 L193.8,343.23 L195.2,342.37 L196.6,341.27 L197.9,339.94 L199.3,338.38 L200.7,336.59 L202.1,334.59 L203.4,332.36 L204.8,329.92 L206.2,327.27 L207.6,324.41 L208.9,321.36 L210.3,318.12 L211.7,314.70 L213.1,311.12 L214.5,307.38 L215.8,303.52 L217.2,299.52 L218.6,295.43 L220.0,291.24 L221.3,287.01 L222.7,282.73 L224.1,278.44 L225.5,274.17 L226.8,269.95 L228.2,265.82 L229.6,261.79 L231.0,257.96 L232.4,254.34 L233.7,251.00 L235.1,248.04 L236.5,245.57 L237.9,243.82 L239.2,243.40 L240.6,243.40 L242.0,243.40" stroke="#4456A3" stroke-width="1.8"/>
<path d="M109.8,243.40 L111.2,243.40 L112.6,243.40 L114.0,243.45 L115.3,244.76 L116.7,246.96 L118.1,249.70 L119.5,252.86 L120.8,256.33 L122.2,260.05 L123.6,263.95 L125.0,267.99 L126.3,272.14 L127.7,276.35 L129.1,280.60 L130.5,284.85 L131.9,289.06 L133.2,293.24 L134.6,297.33 L136.0,301.34 L137.4,305.24 L138.7,309.01 L140.1,312.63 L141.5,316.10 L142.9,319.39 L144.2,322.51 L145.6,325.44 L147.0,328.16 L148.4,330.69 L149.8,333.00 L151.1,335.10 L152.5,336.98 L153.9,338.63 L155.3,340.06 L156.6,341.27 L158.0,342.24 L159.4,342.95 L160.8,343.30 L162.1,343.54 L163.5,343.75 L164.9,343.93 L166.3,344.09 L167.6,344.23 L169.0,344.35 L170.4,344.44 L171.8,344.51 L173.2,344.57 L174.5,344.59 L175.9,344.60 L177.3,344.61 L178.7,344.58 L180.0,344.53 L181.4,344.46 L182.8,344.38 L184.2,344.27 L185.5,344.15 L186.9,344.00 L188.3,343.82 L189.7,343.63 L191.1,343.40 L192.4,343.14 L193.8,342.54 L195.2,341.66 L196.6,340.55 L197.9,339.20 L199.3,337.63 L200.7,335.84 L202.1,333.82 L203.4,331.60 L204.8,329.16 L206.2,326.51 L207.6,323.65 L208.9,320.60 L210.3,317.38 L211.7,313.97 L213.1,310.41 L214.5,306.69 L215.8,302.84 L217.2,298.87 L218.6,294.81 L220.0,290.65 L221.3,286.45 L222.7,282.21 L224.1,277.96 L225.5,273.74 L226.8,269.56 L228.2,265.48 L229.6,261.50 L231.0,257.72 L232.4,254.15 L233.7,250.86 L235.1,247.95 L236.5,245.52 L237.9,243.81 L239.2,243.40 L240.6,243.40 L242.0,243.40" stroke="#4456A3" stroke-width="1.8"/>
<path d="M109.8,243.40 L111.2,243.40 L112.6,243.40 L114.0,243.44 L115.3,244.73 L116.7,246.89 L118.1,249.58 L119.5,252.68 L120.8,256.10 L122.2,259.77 L123.6,263.62 L125.0,267.62 L126.3,271.71 L127.7,275.88 L129.1,280.08 L130.5,284.29 L131.9,288.47 L133.2,292.61 L134.6,296.68 L136.0,300.66 L137.4,304.54 L138.7,308.28 L140.1,311.89 L141.5,315.35 L142.9,318.63 L144.2,321.74 L145.6,324.66 L147.0,327.38 L148.4,329.91 L149.8,332.23 L151.1,334.32 L152.5,336.21 L153.9,337.87 L155.3,339.32 L156.6,340.54 L158.0,341.53 L159.4,342.26 L160.8,342.63 L162.1,342.89 L163.5,343.12 L164.9,343.32 L166.3,343.50 L167.6,343.65 L169.0,343.78 L170.4,343.88 L171.8,343.95 L173.2,344.02 L174.5,344.05 L175.9,344.06 L177.3,344.06 L178.7,344.03 L180.0,343.98 L181.4,343.91 L182.8,343.81 L184.2,343.70 L185.5,343.56 L186.9,343.40 L188.3,343.20 L189.7,342.99 L191.1,342.74 L192.4,342.45 L193.8,341.83 L195.2,340.94 L196.6,339.81 L197.9,338.45 L199.3,336.87 L200.7,335.07 L202.1,333.05 L203.4,330.82 L204.8,328.37 L206.2,325.73 L207.6,322.88 L208.9,319.84 L210.3,316.62 L211.7,313.23 L213.1,309.68 L214.5,305.98 L215.8,302.15 L217.2,298.21 L218.6,294.17 L220.0,290.05 L221.3,285.89 L222.7,281.68 L224.1,277.48 L225.5,273.30 L226.8,269.17 L228.2,265.13 L229.6,261.21 L231.0,257.47 L232.4,253.95 L233.7,250.72 L235.1,247.86 L236.5,245.48 L237.9,243.80 L239.2,243.40 L240.6,243.40 L242.0,243.40" stroke="#4456A3" stroke-width="1.8"/>
<path d="M109.8,243.40 L111.2,243.40 L112.6,243.40 L114.0,243.44 L115.3,244.70 L116.7,246.82 L118.1,249.46 L119.5,252.51 L120.8,255.87 L122.2,259.49 L123.6,263.28 L125.0,267.23 L126.3,271.28 L127.7,275.40 L129.1,279.56 L130.5,283.73 L131.9,287.87 L133.2,291.98 L134.6,296.02 L136.0,299.97 L137.4,303.83 L138.7,307.55 L140.1,311.14 L141.5,314.58 L142.9,317.85 L144.2,320.95 L145.6,323.87 L147.0,326.59 L148.4,329.11 L149.8,331.43 L151.1,333.54 L152.5,335.43 L153.9,337.10 L155.3,338.56 L156.6,339.80 L158.0,340.80 L159.4,341.55 L160.8,341.95 L162.1,342.23 L163.5,342.48 L164.9,342.70 L166.3,342.89 L167.6,343.05 L169.0,343.20 L170.4,343.31 L171.8,343.39 L173.2,343.46 L174.5,343.49 L175.9,343.51 L177.3,343.51 L178.7,343.47 L180.0,343.42 L181.4,343.34 L182.8,343.23 L184.2,343.11 L185.5,342.96 L186.9,342.78 L188.3,342.57 L189.7,342.34 L191.1,342.06 L192.4,341.75 L193.8,341.11 L195.2,340.20 L196.6,339.06 L197.9,337.69 L199.3,336.09 L200.7,334.28 L202.1,332.26 L203.4,330.02 L204.8,327.58 L206.2,324.93 L207.6,322.09 L208.9,319.05 L210.3,315.85 L211.7,312.47 L213.1,308.93 L214.5,305.25 L215.8,301.45 L217.2,297.54 L218.6,293.53 L220.0,289.44 L221.3,285.31 L222.7,281.15 L224.1,276.98 L225.5,272.85 L226.8,268.76 L228.2,264.77 L229.6,260.91 L231.0,257.23 L232.4,253.76 L233.7,250.58 L235.1,247.77 L236.5,245.43 L237.9,243.79 L239.2,243.40 L240.6,243.40 L242.0,243.40" stroke="#4456A3" stroke-width="1.8"/>
<path d="M109.8,243.40 L111.2,243.40 L112.6,243.40 L114.0,243.44 L115.3,244.67 L116.7,246.74 L118.1,249.34 L119.5,252.33 L120.8,255.64 L122.2,259.20 L123.6,262.94 L125.0,266.84 L126.3,270.84 L127.7,274.92 L129.1,279.03 L130.5,283.16 L131.9,287.26 L133.2,291.34 L134.6,295.34 L136.0,299.27 L137.4,303.10 L138.7,306.80 L140.1,310.37 L141.5,313.80 L142.9,317.06 L144.2,320.15 L145.6,323.06 L147.0,325.78 L148.4,328.30 L149.8,330.63 L151.1,332.74 L152.5,334.64 L153.9,336.32 L155.3,337.79 L156.6,339.04 L158.0,340.06 L159.4,340.83 L160.8,341.26 L162.1,341.56 L163.5,341.83 L164.9,342.07 L166.3,342.27 L167.6,342.45 L169.0,342.60 L170.4,342.73 L171.8,342.81 L173.2,342.89 L174.5,342.92 L175.9,342.94 L177.3,342.94 L178.7,342.90 L180.0,342.85 L181.4,342.76 L182.8,342.65 L184.2,342.51 L185.5,342.35 L186.9,342.16 L188.3,341.93 L189.7,341.67 L191.1,341.38 L192.4,341.04 L193.8,340.38 L195.2,339.45 L196.6,338.29 L197.9,336.91 L199.3,335.30 L200.7,333.48 L202.1,331.45 L203.4,329.21 L204.8,326.77 L206.2,324.12 L207.6,321.28 L208.9,318.25 L210.3,315.06 L211.7,311.69 L213.1,308.18 L214.5,304.51 L215.8,300.74 L217.2,296.85 L218.6,292.87 L220.0,288.81 L221.3,284.72 L222.7,280.60 L224.1,276.47 L225.5,272.39 L226.8,268.35 L228.2,264.41 L229.6,260.60 L231.0,256.97 L232.4,253.56 L233.7,250.44 L235.1,247.68 L236.5,245.38 L237.9,243.78 L239.2,243.40 L240.6,243.40 L242.0,243.40" stroke="#4456A3" stroke-width="1.8"/>
<path d="M109.8,243.40 L111.2,243.40 L112.6,243.40 L114.0,243.44 L115.3,244.64 L116.7,246.67 L118.1,249.21 L119.5,252.15 L120.8,255.40 L122.2,258.91 L123.6,262.60 L125.0,266.44 L126.3,270.39 L127.7,274.42 L129.1,278.49 L130.5,282.57 L131.9,286.64 L133.2,290.68 L134.6,294.65 L136.0,298.55 L137.4,302.35 L138.7,306.03 L140.1,309.59 L141.5,313.00 L142.9,316.25 L144.2,319.33 L145.6,322.24 L147.0,324.95 L148.4,327.47 L149.8,329.80 L151.1,331.92 L152.5,333.83 L153.9,335.52 L155.3,337.00 L156.6,338.27 L158.0,339.31 L159.4,340.10 L160.8,340.55 L162.1,340.88 L163.5,341.17 L164.9,341.42 L166.3,341.65 L167.6,341.84 L169.0,342.00 L170.4,342.13 L171.8,342.23 L173.2,342.31 L174.5,342.35 L175.9,342.37 L177.3,342.37 L178.7,342.33 L180.0,342.26 L181.4,342.17 L182.8,342.05 L184.2,341.90 L185.5,341.72 L186.9,341.52 L188.3,341.27 L189.7,341.00 L191.1,340.68 L192.4,340.32 L193.8,339.64 L195.2,338.69 L196.6,337.51 L197.9,336.11 L199.3,334.50 L200.7,332.67 L202.1,330.63 L203.4,328.39 L204.8,325.94 L206.2,323.30 L207.6,320.46 L208.9,317.44 L210.3,314.26 L211.7,310.90 L213.1,307.40 L214.5,303.76 L215.8,300.01 L217.2,296.15 L218.6,292.20 L220.0,288.18 L221.3,284.12 L222.7,280.04 L224.1,275.96 L225.5,271.92 L226.8,267.93 L228.2,264.05 L229.6,260.28 L231.0,256.71 L232.4,253.36 L233.7,250.29 L235.1,247.58 L236.5,245.34 L237.9,243.77 L239.2,243.40 L240.6,243.40 L242.0,243.40" stroke="#4456A3" stroke-width="1.8"/>
<path d="M109.8,243.40 L111.2,243.40 L112.6,243.40 L114.0,243.44 L115.3,244.61 L116.7,246.59 L118.1,249.08 L119.5,251.96 L120.8,255.16 L122.2,258.61 L123.6,262.24 L125.0,266.03 L126.3,269.93 L127.7,273.91 L129.1,277.93 L130.5,281.98 L131.9,286.00 L133.2,290.01 L134.6,293.95 L136.0,297.81 L137.4,301.59 L138.7,305.25 L140.1,308.79 L141.5,312.19 L142.9,315.42 L144.2,318.50 L145.6,321.40 L147.0,324.11 L148.4,326.63 L149.8,328.97 L151.1,331.09 L152.5,333.00 L153.9,334.71 L155.3,336.20 L156.6,337.48 L158.0,338.54 L159.4,339.35 L160.8,339.83 L162.1,340.18 L163.5,340.49 L164.9,340.77 L166.3,341.01 L167.6,341.21 L169.0,341.39 L170.4,341.53 L171.8,341.63 L173.2,341.72 L174.5,341.76 L175.9,341.78 L177.3,341.78 L178.7,341.74 L180.0,341.67 L181.4,341.57 L182.8,341.44 L184.2,341.28 L185.5,341.09 L186.9,340.87 L188.3,340.60 L189.7,340.31 L191.1,339.97 L192.4,339.58 L193.8,338.87 L195.2,337.91 L196.6,336.72 L197.9,335.30 L199.3,333.68 L200.7,331.84 L202.1,329.79 L203.4,327.55 L204.8,325.10 L206.2,322.46 L207.6,319.62 L208.9,316.61 L210.3,313.44 L211.7,310.10 L213.1,306.62 L214.5,302.99 L215.8,299.27 L217.2,295.43 L218.6,291.51 L220.0,287.53 L221.3,283.51 L222.7,279.47 L224.1,275.43 L225.5,271.44 L226.8,267.51 L228.2,263.67 L229.6,259.96 L231.0,256.45 L232.4,253.15 L233.7,250.14 L235.1,247.48 L236.5,245.29 L237.9,243.76 L239.2,243.40 L240.6,243.40 L242.0,243.40" stroke="#4456A3" stroke-width="1.8"/>
<path d="M109.8,243.40 L111.2,243.40 L112.6,243.40 L114.0,243.44 L115.3,244.58 L116.7,246.51 L118.1,248.94 L119.5,251.77 L120.8,254.91 L122.2,258.31 L123.6,261.88 L125.0,265.62 L126.3,269.46 L127.7,273.39 L129.1,277.37 L130.5,281.37 L131.9,285.36 L133.2,289.32 L134.6,293.23 L136.0,297.07 L137.4,300.82 L138.7,304.46 L140.1,307.97 L141.5,311.36 L142.9,314.58 L144.2,317.65 L145.6,320.54 L147.0,323.25 L148.4,325.77 L149.8,328.11 L151.1,330.24 L152.5,332.16 L153.9,333.88 L155.3,335.38 L156.6,336.68 L158.0,337.76 L159.4,338.59 L160.8,339.09 L162.1,339.47 L163.5,339.80 L164.9,340.10 L166.3,340.35 L167.6,340.57 L169.0,340.76 L170.4,340.91 L171.8,341.02 L173.2,341.11 L174.5,341.16 L175.9,341.18 L177.3,341.18 L178.7,341.13 L180.0,341.06 L181.4,340.95 L182.8,340.82 L184.2,340.65 L185.5,340.44 L186.9,340.20 L188.3,339.92 L189.7,339.61 L191.1,339.24 L192.4,338.83 L193.8,338.10 L195.2,337.11 L196.6,335.91 L197.9,334.48 L199.3,332.84 L200.7,330.99 L202.1,328.94 L203.4,326.69 L204.8,324.24 L206.2,321.60 L207.6,318.77 L208.9,315.77 L210.3,312.60 L211.7,309.28 L213.1,305.81 L214.5,302.21 L215.8,298.51 L217.2,294.70 L218.6,290.82 L220.0,286.87 L221.3,282.89 L222.7,278.89 L224.1,274.90 L225.5,270.95 L226.8,267.07 L228.2,263.29 L229.6,259.64 L231.0,256.18 L232.4,252.94 L233.7,249.98 L235.1,247.38 L236.5,245.24 L237.9,243.75 L239.2,243.40 L240.6,243.40 L242.0,243.40" stroke="#4456A3" stroke-width="1.8"/>
<path d="M109.8,243.40 L111.2,243.40 L112.6,243.40 L114.0,243.44 L115.3,244.54 L116.7,246.43 L118.1,248.81 L119.5,251.58 L120.8,254.66 L122.2,257.99 L123.6,261.51 L125.0,265.19 L126.3,268.98 L127.7,272.87 L129.1,276.79 L130.5,280.75 L131.9,284.70 L133.2,288.62 L134.6,292.50 L136.0,296.31 L137.4,300.03 L138.7,303.65 L140.1,307.14 L141.5,310.51 L142.9,313.72 L144.2,316.78 L145.6,319.67 L147.0,322.37 L148.4,324.90 L149.8,327.24 L151.1,329.37 L152.5,331.31 L153.9,333.03 L155.3,334.55 L156.6,335.87 L158.0,336.96 L159.4,337.81 L160.8,338.34 L162.1,338.74 L163.5,339.10 L164.9,339.42 L166.3,339.69 L167.6,339.92 L169.0,340.12 L170.4,340.28 L171.8,340.40 L173.2,340.50 L174.5,340.55 L175.9,340.57 L177.3,340.57 L178.7,340.52 L180.0,340.44 L181.4,340.33 L182.8,340.18 L184.2,340.00 L185.5,339.78 L186.9,339.53 L188.3,339.23 L189.7,338.89 L191.1,338.50 L192.4,338.06 L193.8,337.31 L195.2,336.30 L196.6,335.08 L197.9,333.64 L199.3,331.99 L200.7,330.13 L202.1,328.07 L203.4,325.82 L204.8,323.37 L206.2,320.73 L207.6,317.90 L208.9,314.91 L210.3,311.75 L211.7,308.44 L213.1,305.00 L214.5,301.42 L215.8,297.74 L217.2,293.96 L218.6,290.11 L220.0,286.19 L221.3,282.25 L222.7,278.30 L224.1,274.35 L225.5,270.46 L226.8,266.63 L228.2,262.90 L229.6,259.31 L231.0,255.91 L232.4,252.72 L233.7,249.83 L235.1,247.28 L236.5,245.19 L237.9,243.74 L239.2,243.40 L240.6,243.40 L242.0,243.40" stroke="#4456A3" stroke-width="1.8"/>
<path d="M109.8,243.40 L111.2,243.40 L112.6,243.40 L114.0,243.44 L115.3,244.51 L116.7,246.34 L118.1,248.67 L119.5,251.38 L120.8,254.41 L122.2,257.68 L123.6,261.14 L125.0,264.76 L126.3,268.50 L127.7,272.33 L129.1,276.21 L130.5,280.12 L131.9,284.02 L133.2,287.91 L134.6,291.75 L136.0,295.53 L137.4,299.23 L138.7,302.82 L140.1,306.30 L141.5,309.65 L142.9,312.85 L144.2,315.90 L145.6,318.78 L147.0,321.48 L148.4,324.01 L149.8,326.35 L151.1,328.49 L152.5,330.43 L153.9,332.17 L155.3,333.70 L156.6,335.03 L158.0,336.14 L159.4,337.02 L160.8,337.57 L162.1,338.00 L163.5,338.38 L164.9,338.72 L166.3,339.01 L167.6,339.26 L169.0,339.47 L170.4,339.64 L171.8,339.77 L173.2,339.87 L174.5,339.92 L175.9,339.95 L177.3,339.95 L178.7,339.90 L180.0,339.81 L181.4,339.69 L182.8,339.53 L184.2,339.34 L185.5,339.11 L186.9,338.84 L188.3,338.52 L189.7,338.16 L191.1,337.74 L192.4,337.27 L193.8,336.50 L195.2,335.48 L196.6,334.24 L197.9,332.78 L199.3,331.12 L200.7,329.25 L202.1,327.18 L203.4,324.92 L204.8,322.47 L206.2,319.83 L207.6,317.01 L208.9,314.03 L210.3,310.88 L211.7,307.59 L213.1,304.16 L214.5,300.60 L215.8,296.95 L217.2,293.20 L218.6,289.38 L220.0,285.50 L221.3,281.60 L222.7,277.69 L224.1,273.80 L225.5,269.95 L226.8,266.18 L228.2,262.50 L229.6,258.97 L231.0,255.63 L232.4,252.50 L233.7,249.66 L235.1,247.18 L236.5,245.14 L237.9,243.72 L239.2,243.40 L240.6,243.40 L242.0,243.40" stroke="#4456A3" stroke-width="1.8"/>
<path d="M109.8,243.40 L111.2,243.40 L112.6,243.40 L114.0,243.44 L115.3,244.50 L116.7,246.33 L118.1,248.64 L119.5,251.34 L120.8,254.35 L122.2,257.61 L123.6,261.06 L125.0,264.68 L126.3,268.40 L127.7,272.22 L129.1,276.09 L130.5,279.99 L131.9,283.89 L133.2,287.77 L134.6,291.60 L136.0,295.37 L137.4,299.07 L138.7,302.65 L140.1,306.13 L141.5,309.47 L142.9,312.67 L144.2,315.72 L145.6,318.60 L147.0,321.30 L148.4,323.83 L149.8,326.17 L151.1,328.31 L152.5,330.26 L153.9,331.99 L155.3,333.53 L156.6,334.86 L158.0,335.98 L159.4,336.86 L160.8,337.42 L162.1,337.86 L163.5,338.24 L164.9,338.58 L166.3,338.87 L167.6,339.12 L169.0,339.34 L170.4,339.51 L171.8,339.64 L173.2,339.75 L174.5,339.80 L175.9,339.82 L177.3,339.82 L178.7,339.77 L180.0,339.68 L181.4,339.56 L182.8,339.40 L184.2,339.21 L185.5,338.97 L186.9,338.70 L188.3,338.37 L189.7,338.01 L191.1,337.59 L192.4,337.12 L193.8,336.34 L195.2,335.31 L196.6,334.07 L197.9,332.61 L199.3,330.94 L200.7,329.07 L202.1,327.00 L203.4,324.74 L204.8,322.29 L206.2,319.65 L207.6,316.83 L208.9,313.85 L210.3,310.71 L211.7,307.42 L213.1,303.99 L214.5,300.44 L215.8,296.79 L217.2,293.05 L218.6,289.24 L220.0,285.36 L221.3,281.47 L222.7,277.57 L224.1,273.68 L225.5,269.85 L226.8,266.08 L228.2,262.42 L229.6,258.90 L231.0,255.57 L232.4,252.46 L233.7,249.63 L235.1,247.16 L236.5,245.13 L237.9,243.72 L239.2,243.40 L240.6,243.40 L242.0,243.40" stroke="#4456A3" stroke-width="1.8"/>
<path d="M109.8,243.40 L111.2,243.40 L112.6,243.40 L114.0,243.43 L115.3,244.47 L116.7,246.26 L118.1,248.53 L119.5,251.18 L120.8,254.14 L122.2,257.36 L123.6,260.76 L125.0,264.32 L126.3,268.00 L127.7,271.78 L129.1,275.61 L130.5,279.47 L131.9,283.34 L133.2,287.19 L134.6,290.99 L136.0,294.74 L137.4,298.41 L138.7,301.98 L140.1,305.43 L141.5,308.77 L142.9,311.95 L144.2,314.99 L145.6,317.87 L147.0,320.57 L148.4,323.10 L149.8,325.44 L151.1,327.59 L152.5,329.54 L153.9,331.29 L155.3,332.84 L156.6,334.18 L158.0,335.31 L159.4,336.21 L160.8,336.79 L162.1,337.25 L163.5,337.65 L164.9,338.01 L166.3,338.32 L167.6,338.58 L169.0,338.81 L170.4,338.99 L171.8,339.12 L173.2,339.23 L174.5,339.29 L175.9,339.32 L177.3,339.31 L178.7,339.26 L180.0,339.17 L181.4,339.04 L182.8,338.87 L184.2,338.67 L185.5,338.42 L186.9,338.13 L188.3,337.79 L189.7,337.41 L191.1,336.97 L192.4,336.48 L193.8,335.68 L195.2,334.63 L196.6,333.38 L197.9,331.90 L199.3,330.23 L200.7,328.35 L202.1,326.28 L203.4,324.02 L204.8,321.56 L206.2,318.92 L207.6,316.11 L208.9,313.13 L210.3,310.00 L211.7,306.72 L213.1,303.31 L214.5,299.77 L215.8,296.15 L217.2,292.43 L218.6,288.64 L220.0,284.80 L221.3,280.94 L222.7,277.08 L224.1,273.23 L225.5,269.43 L226.8,265.71 L228.2,262.10 L229.6,258.62 L231.0,255.34 L232.4,252.28 L233.7,249.50 L235.1,247.07 L236.5,245.08 L237.9,243.71 L239.2,243.40 L240.6,243.40 L242.0,243.40" stroke="#DC2830" stroke-width="1.8"/>
<path d="M57.5,243.40 L58.9,243.40 L60.3,243.40 L61.6,243.40 L63.0,243.40 L64.4,243.40 L65.8,243.40 L67.2,243.40 L68.5,243.40 L69.9,243.40 L71.3,243.40 L72.7,243.40 L74.0,243.40 L75.4,243.40 L76.8,243.40 L78.2,243.40 L79.5,243.40 L80.9,243.40 L82.3,243.40 L83.7,243.40 L85.0,243.40 L86.4,243.40 L87.8,243.40 L89.2,243.40 L90.6,243.40 L91.9,243.40 L93.3,243.40 L94.7,243.40 L96.1,243.40 L97.4,243.40 L98.8,243.40 L100.2,243.40 L101.6,243.40 L102.9,243.40 L104.3,243.40 L105.7,243.40 L107.1,243.40 L108.5,243.40 L109.8,243.40 L111.2,243.40 L112.6,243.40 L114.0,243.43 L115.3,244.44 L116.7,246.18 L118.1,248.40 L119.5,251.00 L120.8,253.91 L122.2,257.07 L123.6,260.41 L125.0,263.93 L126.3,267.56 L127.7,271.29 L129.1,275.07 L130.5,278.90 L131.9,282.72 L133.2,286.54 L134.6,290.31 L136.0,294.03 L137.4,297.68 L138.7,301.22 L140.1,304.66 L141.5,307.98 L142.9,311.15 L144.2,314.18 L145.6,317.06 L147.0,319.75 L148.4,322.28 L149.8,324.63 L151.1,326.78 L152.5,328.74 L153.9,330.50 L155.3,332.06 L156.6,333.42 L158.0,334.57 L159.4,335.48 L160.8,336.09 L162.1,336.57 L163.5,337.00 L164.9,337.37 L166.3,337.69 L167.6,337.97 L169.0,338.21 L170.4,338.40 L171.8,338.54 L173.2,338.66 L174.5,338.72 L175.9,338.75 L177.3,338.74 L178.7,338.69 L180.0,338.59 L181.4,338.46 L182.8,338.28 L184.2,338.07 L185.5,337.81 L186.9,337.50 L188.3,337.15 L189.7,336.75 L191.1,336.28 L192.4,335.76 L193.8,334.94 L195.2,333.88 L196.6,332.60 L197.9,331.12 L199.3,329.43 L200.7,327.55 L202.1,325.47 L203.4,323.20 L204.8,320.74 L206.2,318.11 L207.6,315.30 L208.9,312.33 L210.3,309.21 L211.7,305.94 L213.1,302.55 L214.5,299.03 L215.8,295.43 L217.2,291.74 L218.6,287.98 L220.0,284.17 L221.3,280.35 L222.7,276.52 L224.1,272.72 L225.5,268.97 L226.8,265.30 L228.2,261.74 L229.6,258.31 L231.0,255.09 L232.4,252.08 L233.7,249.35 L235.1,246.98 L236.5,245.04 L237.9,243.70 L239.2,243.40 L240.6,243.40 L242.0,243.40 L243.4,243.40 L244.7,243.40 L246.1,243.40 L247.5,243.40 L248.9,243.40 L250.2,243.40 L251.6,243.40 L253.0,243.40 L254.4,243.40 L255.8,243.40 L257.1,243.40 L258.5,243.40 L259.9,243.40 L261.3,243.40 L262.6,243.40 L264.0,243.40 L265.4,243.40 L266.8,243.40 L268.1,243.40 L269.5,243.40 L270.9,243.40 L272.3,243.40 L273.7,243.40 L275.0,243.40 L276.4,243.40 L277.8,243.40 L279.2,243.40 L280.5,243.40" stroke="#7DBA55" stroke-width="1.8"/>
<path d="M109.8,243.40 L111.2,243.40 L112.6,243.40 L114.0,243.43 L115.3,244.41 L116.7,246.10 L118.1,248.26 L119.5,250.79 L120.8,253.64 L122.2,256.73 L123.6,260.02 L125.0,263.47 L126.3,267.04 L127.7,270.72 L129.1,274.45 L130.5,278.23 L131.9,282.01 L133.2,285.78 L134.6,289.52 L136.0,293.20 L137.4,296.82 L138.7,300.34 L140.1,303.76 L141.5,307.07 L142.9,310.23 L144.2,313.25 L145.6,316.12 L147.0,318.81 L148.4,321.33 L149.8,323.69 L151.1,325.84 L152.5,327.81 L153.9,329.58 L155.3,331.16 L156.6,332.54 L158.0,333.70 L159.4,334.64 L160.8,335.28 L162.1,335.79 L163.5,336.24 L164.9,336.63 L166.3,336.98 L167.6,337.27 L169.0,337.52 L170.4,337.72 L171.8,337.87 L173.2,337.99 L174.5,338.06 L175.9,338.09 L177.3,338.08 L178.7,338.02 L180.0,337.92 L181.4,337.78 L182.8,337.60 L184.2,337.37 L185.5,337.09 L186.9,336.77 L188.3,336.40 L189.7,335.97 L191.1,335.48 L192.4,334.93 L193.8,334.08 L195.2,333.00 L196.6,331.71 L197.9,330.21 L199.3,328.51 L200.7,326.61 L202.1,324.53 L203.4,322.25 L204.8,319.80 L206.2,317.16 L207.6,314.36 L208.9,311.39 L210.3,308.29 L211.7,305.03 L213.1,301.66 L214.5,298.17 L215.8,294.59 L217.2,290.93 L218.6,287.21 L220.0,283.44 L221.3,279.66 L222.7,275.88 L224.1,272.13 L225.5,268.44 L226.8,264.82 L228.2,261.32 L229.6,257.95 L231.0,254.79 L232.4,251.85 L233.7,249.18 L235.1,246.87 L236.5,244.98 L237.9,243.69 L239.2,243.40 L240.6,243.40 L242.0,243.40" stroke="#7DBA55" stroke-width="1.8"/>
<path d="M109.8,243.40 L111.2,243.40 L112.6,243.40 L114.0,243.43 L115.3,244.37 L116.7,246.01 L118.1,248.11 L119.5,250.58 L120.8,253.36 L122.2,256.39 L123.6,259.61 L125.0,263.00 L126.3,266.52 L127.7,270.14 L129.1,273.82 L130.5,277.54 L131.9,281.28 L133.2,285.01 L134.6,288.71 L136.0,292.37 L137.4,295.96 L138.7,299.45 L140.1,302.85 L141.5,306.13 L142.9,309.28 L144.2,312.29 L145.6,315.15 L147.0,317.84 L148.4,320.37 L149.8,322.73 L151.1,324.89 L152.5,326.87 L153.9,328.65 L155.3,330.24 L156.6,331.64 L158.0,332.82 L159.4,333.79 L160.8,334.45 L162.1,334.99 L163.5,335.46 L164.9,335.88 L166.3,336.24 L167.6,336.55 L169.0,336.81 L170.4,337.03 L171.8,337.19 L173.2,337.32 L174.5,337.38 L175.9,337.42 L177.3,337.41 L178.7,337.35 L180.0,337.24 L181.4,337.09 L182.8,336.90 L184.2,336.66 L185.5,336.37 L186.9,336.03 L188.3,335.63 L189.7,335.18 L191.1,334.67 L192.4,334.08 L193.8,333.21 L195.2,332.11 L196.6,330.80 L197.9,329.28 L199.3,327.57 L200.7,325.66 L202.1,323.57 L203.4,321.29 L204.8,318.83 L206.2,316.20 L207.6,313.40 L208.9,310.44 L210.3,307.35 L211.7,304.11 L213.1,300.76 L214.5,297.29 L215.8,293.74 L217.2,290.11 L218.6,286.43 L220.0,282.70 L221.3,278.96 L222.7,275.23 L224.1,271.53 L225.5,267.89 L226.8,264.33 L228.2,260.89 L229.6,257.59 L231.0,254.49 L232.4,251.61 L233.7,249.01 L235.1,246.76 L236.5,244.93 L237.9,243.68 L239.2,243.40 L240.6,243.40 L242.0,243.40" stroke="#7DBA55" stroke-width="1.8"/>
<path d="M109.8,243.40 L111.2,243.40 L112.6,243.40 L114.0,243.43 L115.3,244.33 L116.7,245.92 L118.1,247.95 L119.5,250.36 L120.8,253.08 L122.2,256.04 L123.6,259.20 L125.0,262.53 L126.3,265.98 L127.7,269.54 L129.1,273.17 L130.5,276.85 L131.9,280.54 L133.2,284.23 L134.6,287.89 L136.0,291.51 L137.4,295.07 L138.7,298.54 L140.1,301.91 L141.5,305.18 L142.9,308.31 L144.2,311.32 L145.6,314.17 L147.0,316.86 L148.4,319.38 L149.8,321.74 L151.1,323.91 L152.5,325.90 L153.9,327.70 L155.3,329.30 L156.6,330.72 L158.0,331.92 L159.4,332.91 L160.8,333.61 L162.1,334.17 L163.5,334.67 L164.9,335.11 L166.3,335.49 L167.6,335.82 L169.0,336.10 L170.4,336.32 L171.8,336.49 L173.2,336.62 L174.5,336.69 L175.9,336.73 L177.3,336.72 L178.7,336.66 L180.0,336.55 L181.4,336.39 L182.8,336.18 L184.2,335.93 L185.5,335.62 L186.9,335.27 L188.3,334.85 L189.7,334.37 L191.1,333.83 L192.4,333.22 L193.8,332.32 L195.2,331.19 L196.6,329.87 L197.9,328.33 L199.3,326.61 L200.7,324.69 L202.1,322.59 L203.4,320.31 L204.8,317.85 L206.2,315.22 L207.6,312.42 L208.9,309.47 L210.3,306.39 L211.7,303.17 L213.1,299.84 L214.5,296.39 L215.8,292.87 L217.2,289.28 L218.6,285.63 L220.0,281.94 L221.3,278.25 L222.7,274.56 L224.1,270.91 L225.5,267.33 L226.8,263.83 L228.2,260.45 L229.6,257.21 L231.0,254.18 L232.4,251.37 L233.7,248.83 L235.1,246.64 L236.5,244.87 L237.9,243.67 L239.2,243.40 L240.6,243.40 L242.0,243.40" stroke="#7DBA55" stroke-width="1.8"/>
<path d="M109.8,243.40 L111.2,243.40 L112.6,243.40 L114.0,243.43 L115.3,244.29 L116.7,245.82 L118.1,247.80 L119.5,250.14 L120.8,252.79 L122.2,255.68 L123.6,258.77 L125.0,262.04 L126.3,265.43 L127.7,268.94 L129.1,272.51 L130.5,276.13 L131.9,279.78 L133.2,283.43 L134.6,287.05 L136.0,290.63 L137.4,294.16 L138.7,297.60 L140.1,300.96 L141.5,304.21 L142.9,307.33 L144.2,310.32 L145.6,313.17 L147.0,315.85 L148.4,318.38 L149.8,320.74 L151.1,322.92 L152.5,324.92 L153.9,326.72 L155.3,328.34 L156.6,329.78 L158.0,331.00 L159.4,332.02 L160.8,332.74 L162.1,333.34 L163.5,333.86 L164.9,334.32 L166.3,334.73 L167.6,335.07 L169.0,335.36 L170.4,335.60 L171.8,335.77 L173.2,335.92 L174.5,335.99 L175.9,336.03 L177.3,336.02 L178.7,335.95 L180.0,335.84 L181.4,335.67 L182.8,335.45 L184.2,335.19 L185.5,334.86 L186.9,334.49 L188.3,334.05 L189.7,333.55 L191.1,332.98 L192.4,332.33 L193.8,331.41 L195.2,330.26 L196.6,328.92 L197.9,327.37 L199.3,325.63 L200.7,323.70 L202.1,321.59 L203.4,319.30 L204.8,316.84 L206.2,314.21 L207.6,311.42 L208.9,308.48 L210.3,305.41 L211.7,302.21 L213.1,298.90 L214.5,295.48 L215.8,291.99 L217.2,288.42 L218.6,284.81 L220.0,281.16 L221.3,277.52 L222.7,273.88 L224.1,270.29 L225.5,266.76 L226.8,263.32 L228.2,260.00 L229.6,256.83 L231.0,253.86 L232.4,251.12 L233.7,248.65 L235.1,246.53 L236.5,244.81 L237.9,243.66 L239.2,243.40 L240.6,243.40 L242.0,243.40" stroke="#7DBA55" stroke-width="1.8"/>
<path d="M109.8,243.40 L111.2,243.40 L112.6,243.40 L114.0,243.43 L115.3,244.25 L116.7,245.73 L118.1,247.64 L119.5,249.91 L120.8,252.49 L122.2,255.32 L123.6,258.34 L125.0,261.54 L126.3,264.87 L127.7,268.32 L129.1,271.83 L130.5,275.41 L131.9,279.00 L133.2,282.61 L134.6,286.19 L136.0,289.74 L137.4,293.24 L138.7,296.65 L140.1,299.98 L141.5,303.21 L142.9,306.32 L144.2,309.30 L145.6,312.14 L147.0,314.82 L148.4,317.35 L149.8,319.72 L151.1,321.90 L152.5,323.91 L153.9,325.73 L155.3,327.37 L156.6,328.82 L158.0,330.06 L159.4,331.10 L160.8,331.86 L162.1,332.49 L163.5,333.04 L164.9,333.52 L166.3,333.94 L167.6,334.31 L169.0,334.61 L170.4,334.86 L171.8,335.05 L173.2,335.19 L174.5,335.27 L175.9,335.31 L177.3,335.30 L178.7,335.23 L180.0,335.11 L181.4,334.93 L182.8,334.71 L184.2,334.43 L185.5,334.09 L186.9,333.69 L188.3,333.23 L189.7,332.71 L191.1,332.11 L192.4,331.43 L193.8,330.48 L195.2,329.31 L196.6,327.94 L197.9,326.38 L199.3,324.63 L200.7,322.68 L202.1,320.57 L203.4,318.27 L204.8,315.81 L206.2,313.18 L207.6,310.40 L208.9,307.47 L210.3,304.41 L211.7,301.22 L213.1,297.93 L214.5,294.54 L215.8,291.08 L217.2,287.55 L218.6,283.97 L220.0,280.37 L221.3,276.77 L222.7,273.19 L224.1,269.64 L225.5,266.17 L226.8,262.80 L228.2,259.54 L229.6,256.44 L231.0,253.54 L232.4,250.87 L233.7,248.47 L235.1,246.41 L236.5,244.75 L237.9,243.64 L239.2,243.40 L240.6,243.40 L242.0,243.40" stroke="#7DBA55" stroke-width="1.8"/>
<path d="M109.8,243.40 L111.2,243.40 L112.6,243.40 L114.0,243.42 L115.3,244.21 L116.7,245.63 L118.1,247.48 L119.5,249.68 L120.8,252.19 L122.2,254.94 L123.6,257.90 L125.0,261.03 L126.3,264.30 L127.7,267.68 L129.1,271.14 L130.5,274.66 L131.9,278.21 L133.2,281.77 L134.6,285.31 L136.0,288.82 L137.4,292.29 L138.7,295.68 L140.1,298.99 L141.5,302.20 L142.9,305.29 L144.2,308.26 L145.6,311.09 L147.0,313.77 L148.4,316.30 L149.8,318.67 L151.1,320.86 L152.5,322.88 L153.9,324.71 L155.3,326.37 L156.6,327.84 L158.0,329.11 L159.4,330.17 L160.8,330.96 L162.1,331.62 L163.5,332.19 L164.9,332.70 L166.3,333.14 L167.6,333.52 L169.0,333.84 L170.4,334.10 L171.8,334.30 L173.2,334.46 L174.5,334.54 L175.9,334.58 L177.3,334.57 L178.7,334.49 L180.0,334.37 L181.4,334.18 L182.8,333.94 L184.2,333.65 L185.5,333.30 L186.9,332.88 L188.3,332.40 L189.7,331.85 L191.1,331.22 L192.4,330.51 L193.8,329.53 L195.2,328.34 L196.6,326.95 L197.9,325.37 L199.3,323.60 L200.7,321.65 L202.1,319.52 L203.4,317.23 L204.8,314.76 L206.2,312.13 L207.6,309.35 L208.9,306.43 L210.3,303.39 L211.7,300.22 L213.1,296.95 L214.5,293.58 L215.8,290.15 L217.2,286.66 L218.6,283.12 L220.0,279.56 L221.3,276.01 L222.7,272.48 L224.1,268.99 L225.5,265.58 L226.8,262.26 L228.2,259.08 L229.6,256.04 L231.0,253.21 L232.4,250.61 L233.7,248.28 L235.1,246.29 L236.5,244.69 L237.9,243.63 L239.2,243.40 L240.6,243.40 L242.0,243.40" stroke="#7DBA55" stroke-width="1.8"/>
<path d="M109.8,243.40 L111.2,243.40 L112.6,243.40 L114.0,243.42 L115.3,244.17 L116.7,245.53 L118.1,247.31 L119.5,249.45 L120.8,251.88 L122.2,254.56 L123.6,257.45 L125.0,260.51 L126.3,263.71 L127.7,267.04 L129.1,270.44 L130.5,273.90 L131.9,277.40 L133.2,280.91 L134.6,284.41 L136.0,287.89 L137.4,291.32 L138.7,294.68 L140.1,297.97 L141.5,301.16 L142.9,304.24 L144.2,307.20 L145.6,310.02 L147.0,312.70 L148.4,315.23 L149.8,317.60 L151.1,319.80 L152.5,321.83 L153.9,323.68 L155.3,325.35 L156.6,326.84 L158.0,328.13 L159.4,329.22 L160.8,330.04 L162.1,330.73 L163.5,331.33 L164.9,331.86 L166.3,332.33 L167.6,332.73 L169.0,333.06 L170.4,333.33 L171.8,333.54 L173.2,333.70 L174.5,333.79 L175.9,333.83 L177.3,333.82 L178.7,333.74 L180.0,333.61 L181.4,333.41 L182.8,333.17 L184.2,332.86 L185.5,332.49 L186.9,332.05 L188.3,331.55 L189.7,330.97 L191.1,330.31 L192.4,329.57 L193.8,328.56 L195.2,327.34 L196.6,325.94 L197.9,324.34 L199.3,322.55 L200.7,320.59 L202.1,318.46 L203.4,316.15 L204.8,313.69 L206.2,311.06 L207.6,308.29 L208.9,305.38 L210.3,302.35 L211.7,299.20 L213.1,295.95 L214.5,292.61 L215.8,289.21 L217.2,285.75 L218.6,282.25 L220.0,278.73 L221.3,275.23 L222.7,271.75 L224.1,268.32 L225.5,264.97 L226.8,261.72 L228.2,258.60 L229.6,255.63 L231.0,252.88 L232.4,250.34 L233.7,248.09 L235.1,246.16 L236.5,244.63 L237.9,243.62 L239.2,243.40 L240.6,243.40 L242.0,243.40" stroke="#7DBA55" stroke-width="1.8"/>
<path d="M109.8,243.40 L111.2,243.40 L112.6,243.40 L114.0,243.42 L115.3,244.13 L116.7,245.43 L118.1,247.14 L119.5,249.20 L120.8,251.56 L122.2,254.18 L123.6,256.99 L125.0,259.98 L126.3,263.12 L127.7,266.38 L129.1,269.72 L130.5,273.13 L131.9,276.57 L133.2,280.04 L134.6,283.50 L136.0,286.94 L137.4,290.34 L138.7,293.67 L140.1,296.93 L141.5,300.10 L142.9,303.16 L144.2,306.11 L145.6,308.93 L147.0,311.60 L148.4,314.13 L149.8,316.51 L151.1,318.71 L152.5,320.76 L153.9,322.61 L155.3,324.30 L156.6,325.81 L158.0,327.13 L159.4,328.24 L160.8,329.10 L162.1,329.82 L163.5,330.45 L164.9,331.01 L166.3,331.49 L167.6,331.91 L169.0,332.26 L170.4,332.55 L171.8,332.76 L173.2,332.93 L174.5,333.02 L175.9,333.07 L177.3,333.05 L178.7,332.97 L180.0,332.83 L181.4,332.63 L182.8,332.37 L184.2,332.05 L185.5,331.66 L186.9,331.21 L188.3,330.67 L189.7,330.07 L191.1,329.38 L192.4,328.60 L193.8,327.57 L195.2,326.33 L196.6,324.90 L197.9,323.28 L199.3,321.49 L200.7,319.51 L202.1,317.37 L203.4,315.06 L204.8,312.59 L206.2,309.97 L207.6,307.20 L208.9,304.30 L210.3,301.28 L211.7,298.15 L213.1,294.92 L214.5,291.61 L215.8,288.24 L217.2,284.81 L218.6,281.36 L220.0,277.89 L221.3,274.43 L222.7,271.01 L224.1,267.64 L225.5,264.35 L226.8,261.16 L228.2,258.11 L229.6,255.22 L231.0,252.53 L232.4,250.07 L233.7,247.89 L235.1,246.04 L236.5,244.57 L237.9,243.61 L239.2,243.40 L240.6,243.40 L242.0,243.40" stroke="#7DBA55" stroke-width="1.8"/>
<path d="M109.8,243.40 L111.2,243.40 L112.6,243.40 L114.0,243.42 L115.3,244.09 L116.7,245.32 L118.1,246.97 L119.5,248.96 L120.8,251.24 L122.2,253.78 L123.6,256.52 L125.0,259.44 L126.3,262.51 L127.7,265.70 L129.1,268.98 L130.5,272.34 L131.9,275.73 L133.2,279.15 L134.6,282.56 L136.0,285.96 L137.4,289.33 L138.7,292.63 L140.1,295.86 L141.5,299.02 L142.9,302.06 L144.2,305.00 L145.6,307.81 L147.0,310.48 L148.4,313.01 L149.8,315.39 L151.1,317.60 L152.5,319.66 L153.9,321.53 L155.3,323.23 L156.6,324.76 L158.0,326.10 L159.4,327.24 L160.8,328.14 L162.1,328.89 L163.5,329.55 L164.9,330.13 L166.3,330.64 L167.6,331.08 L169.0,331.44 L170.4,331.74 L171.8,331.97 L173.2,332.14 L174.5,332.24 L175.9,332.29 L177.3,332.27 L178.7,332.19 L180.0,332.04 L181.4,331.83 L182.8,331.56 L184.2,331.22 L185.5,330.82 L186.9,330.34 L188.3,329.78 L189.7,329.16 L191.1,328.44 L192.4,327.62 L193.8,326.56 L195.2,325.29 L196.6,323.84 L197.9,322.20 L199.3,320.39 L200.7,318.40 L202.1,316.25 L203.4,313.94 L204.8,311.47 L206.2,308.85 L207.6,306.08 L208.9,303.19 L210.3,300.19 L211.7,297.08 L213.1,293.87 L214.5,290.59 L215.8,287.25 L217.2,283.86 L218.6,280.45 L220.0,277.02 L221.3,273.62 L222.7,270.25 L224.1,266.94 L225.5,263.71 L226.8,260.59 L228.2,257.61 L229.6,254.79 L231.0,252.18 L232.4,249.80 L233.7,247.69 L235.1,245.91 L236.5,244.50 L237.9,243.59 L239.2,243.40 L240.6,243.40 L242.0,243.40" stroke="#7DBA55" stroke-width="1.8"/>
<path d="M109.8,243.40 L111.2,243.40 L112.6,243.40 L114.0,243.42 L115.3,244.04 L116.7,245.22 L118.1,246.79 L119.5,248.70 L120.8,250.91 L122.2,253.37 L123.6,256.03 L125.0,258.89 L126.3,261.88 L127.7,265.01 L129.1,268.23 L130.5,271.52 L131.9,274.86 L133.2,278.23 L134.6,281.60 L136.0,284.96 L137.4,288.30 L138.7,291.57 L140.1,294.78 L141.5,297.91 L142.9,300.94 L144.2,303.86 L145.6,306.67 L147.0,309.33 L148.4,311.86 L149.8,314.25 L151.1,316.47 L152.5,318.53 L153.9,320.42 L155.3,322.14 L156.6,323.69 L158.0,325.06 L159.4,326.23 L160.8,327.15 L162.1,327.94 L163.5,328.63 L164.9,329.24 L166.3,329.77 L167.6,330.22 L169.0,330.60 L170.4,330.92 L171.8,331.15 L173.2,331.34 L174.5,331.44 L175.9,331.49 L177.3,331.47 L178.7,331.38 L180.0,331.23 L181.4,331.01 L182.8,330.73 L184.2,330.38 L185.5,329.95 L186.9,329.45 L188.3,328.87 L189.7,328.22 L191.1,327.46 L192.4,326.61 L193.8,325.52 L195.2,324.23 L196.6,322.76 L197.9,321.10 L199.3,319.27 L200.7,317.27 L202.1,315.11 L203.4,312.79 L204.8,310.32 L206.2,307.70 L207.6,304.94 L208.9,302.06 L210.3,299.08 L211.7,295.98 L213.1,292.80 L214.5,289.54 L215.8,286.24 L217.2,282.89 L218.6,279.52 L220.0,276.14 L221.3,272.79 L222.7,269.47 L224.1,266.22 L225.5,263.06 L226.8,260.01 L228.2,257.10 L229.6,254.36 L231.0,251.82 L232.4,249.51 L233.7,247.48 L235.1,245.77 L236.5,244.44 L237.9,243.58 L239.2,243.40 L240.6,243.40 L242.0,243.40" stroke="#7DBA55" stroke-width="1.8"/>
<path d="M109.8,243.40 L111.2,243.40 L112.6,243.40 L114.0,243.42 L115.3,244.00 L116.7,245.11 L118.1,246.61 L119.5,248.45 L120.8,250.57 L122.2,252.95 L123.6,255.54 L125.0,258.32 L126.3,261.24 L127.7,264.30 L129.1,267.46 L130.5,270.69 L131.9,273.98 L133.2,277.30 L134.6,280.62 L136.0,283.94 L137.4,287.24 L138.7,290.48 L140.1,293.67 L141.5,296.78 L142.9,299.79 L144.2,302.70 L145.6,305.50 L147.0,308.16 L148.4,310.69 L149.8,313.08 L151.1,315.31 L152.5,317.38 L153.9,319.29 L155.3,321.03 L156.6,322.60 L158.0,323.99 L159.4,325.18 L160.8,326.15 L162.1,326.97 L163.5,327.69 L164.9,328.32 L166.3,328.88 L167.6,329.35 L169.0,329.75 L170.4,330.07 L171.8,330.32 L173.2,330.51 L174.5,330.62 L175.9,330.67 L177.3,330.65 L178.7,330.56 L180.0,330.40 L181.4,330.17 L182.8,329.87 L184.2,329.51 L185.5,329.07 L186.9,328.55 L188.3,327.94 L189.7,327.26 L191.1,326.47 L192.4,325.58 L193.8,324.46 L195.2,323.14 L196.6,321.65 L197.9,319.97 L199.3,318.13 L200.7,316.12 L202.1,313.95 L203.4,311.62 L204.8,309.15 L206.2,306.53 L207.6,303.78 L208.9,300.91 L210.3,297.94 L211.7,294.86 L213.1,291.70 L214.5,288.47 L215.8,285.20 L217.2,281.89 L218.6,278.56 L220.0,275.23 L221.3,271.94 L222.7,268.68 L224.1,265.49 L225.5,262.40 L226.8,259.42 L228.2,256.58 L229.6,253.91 L231.0,251.45 L232.4,249.23 L233.7,247.27 L235.1,245.64 L236.5,244.37 L237.9,243.56 L239.2,243.40 L240.6,243.40 L242.0,243.40" stroke="#7DBA55" stroke-width="1.8"/>
</g>
<rect x="48.5" y="238.5" width="241.0" height="125.0" fill="none" stroke="#000" stroke-width="1.2"/>
<g stroke="#000" stroke-width="1.2" fill="none">
<path d="M76.10,363.5 L282.60,363.5"/>
</g>
<g stroke="#111" stroke-width="1" fill="none">
<path d="M76.5,363.5 v6.0"/>
<path d="M117.5,363.5 v6.0"/>
<path d="M158.5,363.5 v6.0"/>
<path d="M200.5,363.5 v6.0"/>
<path d="M241.5,363.5 v6.0"/>
<path d="M282.5,363.5 v6.0"/>
<path d="M48.5,243.5 h-7.2"/>
<path d="M48.5,277.5 h-7.2"/>
<path d="M48.5,310.5 h-7.2"/>
<path d="M48.5,344.5 h-7.2"/>
</g>
<g font-family="Liberation Sans, sans-serif" font-size="10.4" fill="#000" text-anchor="middle">
<text x="76.10" y="385.5">-0.02</text>
<text x="117.40" y="385.5">-0.01</text>
<text x="158.70" y="385.5">0.00</text>
<text x="200.00" y="385.5">0.01</text>
<text x="241.30" y="385.5">0.02</text>
<text x="282.60" y="385.5">0.03</text>
<text x="169.0" y="409.8">phase</text>
<text transform="translate(33.9,277.00) rotate(-90)">0.995</text>
<text transform="translate(33.9,344.20) rotate(-90)">0.985</text>
<text transform="translate(8.7,301.00) rotate(-90)">flux</text>
</g>
<text font-family="Liberation Sans, sans-serif" font-size="12.5" font-weight="bold" text-anchor="middle" x="169.0" y="226.3">Vary u</text>
</g>
<g id="panel4">
<g fill="none" stroke="#000" stroke-width="0.9">
<circle cx="367.86" cy="243.40" r="2.1"/>
<circle cx="371.98" cy="244.25" r="2.1"/>
<circle cx="376.10" cy="242.64" r="2.1"/>
<circle cx="380.22" cy="243.40" r="2.1"/>
<circle cx="384.34" cy="243.68" r="2.1"/>
<circle cx="388.46" cy="243.68" r="2.1"/>
<circle cx="392.58" cy="242.45" r="2.1"/>
<circle cx="396.70" cy="244.25" r="2.1"/>
<circle cx="400.82" cy="243.40" r="2.1"/>
<circle cx="404.94" cy="242.45" r="2.1"/>
<circle cx="409.06" cy="243.68" r="2.1"/>
<circle cx="413.18" cy="243.40" r="2.1"/>
<circle cx="417.30" cy="242.93" r="2.1"/>
<circle cx="421.42" cy="242.93" r="2.1"/>
<circle cx="425.54" cy="243.49" r="2.1"/>
<circle cx="429.66" cy="250.57" r="2.1"/>
<circle cx="433.78" cy="259.84" r="2.1"/>
<circle cx="437.90" cy="271.34" r="2.1"/>
<circle cx="442.02" cy="281.50" r="2.1"/>
<circle cx="446.14" cy="292.37" r="2.1"/>
<circle cx="450.26" cy="302.39" r="2.1"/>
<circle cx="454.38" cy="311.76" r="2.1"/>
<circle cx="458.50" cy="319.16" r="2.1"/>
<circle cx="462.62" cy="325.51" r="2.1"/>
<circle cx="466.74" cy="330.35" r="2.1"/>
<circle cx="470.86" cy="331.69" r="2.1"/>
<circle cx="474.98" cy="332.85" r="2.1"/>
<circle cx="479.10" cy="333.18" r="2.1"/>
<circle cx="483.22" cy="334.44" r="2.1"/>
<circle cx="487.34" cy="334.75" r="2.1"/>
<circle cx="491.46" cy="334.57" r="2.1"/>
<circle cx="495.58" cy="334.50" r="2.1"/>
<circle cx="499.70" cy="332.23" r="2.1"/>
<circle cx="503.82" cy="331.66" r="2.1"/>
<circle cx="507.94" cy="328.12" r="2.1"/>
<circle cx="512.06" cy="322.27" r="2.1"/>
<circle cx="516.18" cy="314.40" r="2.1"/>
<circle cx="520.30" cy="306.57" r="2.1"/>
<circle cx="524.42" cy="297.50" r="2.1"/>
<circle cx="528.54" cy="286.76" r="2.1"/>
<circle cx="532.66" cy="275.08" r="2.1"/>
<circle cx="536.78" cy="264.69" r="2.1"/>
<circle cx="540.90" cy="255.15" r="2.1"/>
<circle cx="545.02" cy="247.01" r="2.1"/>
<circle cx="549.14" cy="242.45" r="2.1"/>
<circle cx="553.26" cy="242.45" r="2.1"/>
<circle cx="557.38" cy="242.64" r="2.1"/>
<circle cx="561.50" cy="242.93" r="2.1"/>
<circle cx="565.62" cy="241.04" r="2.1"/>
<circle cx="569.74" cy="243.68" r="2.1"/>
<circle cx="573.86" cy="243.87" r="2.1"/>
<circle cx="577.98" cy="243.68" r="2.1"/>
<circle cx="582.10" cy="243.87" r="2.1"/>
<circle cx="586.22" cy="243.87" r="2.1"/>
<circle cx="590.34" cy="244.25" r="2.1"/>
</g>
<g fill="none" stroke-linejoin="round" stroke-linecap="round">
<path d="M420.0,243.40 L421.4,243.40 L422.8,243.40 L424.2,243.43 L425.5,244.42 L426.9,246.12 L428.3,248.27 L429.7,250.80 L431.0,253.61 L432.4,256.66 L433.8,259.89 L435.2,263.28 L436.5,266.78 L437.9,270.37 L439.3,274.01 L440.6,277.68 L442.0,281.35 L443.4,285.01 L444.8,288.63 L446.1,292.19 L447.5,295.68 L448.9,299.06 L450.3,302.35 L451.6,305.52 L453.0,308.55 L454.4,311.44 L455.8,314.17 L457.1,316.74 L458.5,319.14 L459.9,321.36 L461.2,323.40 L462.6,325.26 L464.0,326.92 L465.4,328.39 L466.7,329.67 L468.1,330.74 L469.5,331.60 L470.9,332.15 L472.2,332.59 L473.6,332.97 L475.0,333.31 L476.4,333.60 L477.7,333.85 L479.1,334.06 L480.5,334.24 L481.8,334.36 L483.2,334.47 L484.6,334.52 L486.0,334.55 L487.3,334.54 L488.7,334.49 L490.1,334.41 L491.5,334.29 L492.8,334.13 L494.2,333.94 L495.6,333.70 L497.0,333.43 L498.3,333.10 L499.7,332.74 L501.1,332.32 L502.4,331.85 L503.8,331.09 L505.2,330.10 L506.6,328.90 L507.9,327.50 L509.3,325.91 L510.7,324.13 L512.1,322.16 L513.4,320.01 L514.8,317.68 L516.2,315.17 L517.6,312.50 L518.9,309.66 L520.3,306.69 L521.7,303.57 L523.0,300.33 L524.4,296.97 L525.8,293.53 L527.2,289.99 L528.5,286.39 L529.9,282.74 L531.3,279.08 L532.7,275.40 L534.0,271.75 L535.4,268.14 L536.8,264.60 L538.2,261.17 L539.5,257.86 L540.9,254.75 L542.3,251.84 L543.6,249.20 L545.0,246.89 L546.4,245.00 L547.8,243.70 L549.1,243.40 L550.5,243.40 L551.9,243.40" stroke="#DC2830" stroke-width="1.85"/>
<path d="M399.4,243.40 L400.8,243.40 L402.2,243.40 L403.6,243.41 L404.9,245.04 L406.3,248.05 L407.7,251.98 L409.1,256.64 L410.4,261.88 L411.8,267.59 L413.2,273.67 L414.6,280.05 L415.9,286.62 L417.3,293.30 L418.7,299.98 L420.0,306.59 L421.4,312.98 L422.8,319.04 L424.2,324.57 L425.5,329.28 L426.9,332.37 L428.3,334.18 L429.7,335.80 L431.0,337.29 L432.4,338.66 L433.8,339.94 L435.2,341.15 L436.5,342.27 L437.9,343.34 L439.3,344.35 L440.6,345.30 L442.0,346.20 L443.4,347.05 L444.8,347.87 L446.1,348.64 L447.5,349.37 L448.9,350.06 L450.3,350.72 L451.6,351.35 L453.0,351.95 L454.4,352.52 L455.8,353.05 L457.1,353.55 L458.5,354.03 L459.9,354.49 L461.2,354.90 L462.6,355.30 L464.0,355.68 L465.4,356.02 L466.7,356.34 L468.1,356.64 L469.5,356.92 L470.9,357.17 L472.2,357.40 L473.6,357.61 L475.0,357.80 L476.4,357.96 L477.7,358.10 L479.1,358.22 L480.5,358.32 L481.8,358.41 L483.2,358.46 L484.6,358.50 L486.0,358.51 L487.3,358.50 L488.7,358.47 L490.1,358.43 L491.5,358.36 L492.8,358.27 L494.2,358.16 L495.6,358.02 L497.0,357.86 L498.3,357.69 L499.7,357.49 L501.1,357.26 L502.4,357.02 L503.8,356.76 L505.2,356.46 L506.6,356.15 L507.9,355.81 L509.3,355.44 L510.7,355.06 L512.1,354.64 L513.4,354.20 L514.8,353.74 L516.2,353.24 L517.6,352.72 L518.9,352.17 L520.3,351.58 L521.7,350.97 L523.0,350.33 L524.4,349.64 L525.8,348.92 L527.2,348.16 L528.5,347.37 L529.9,346.53 L531.3,345.64 L532.7,344.71 L534.0,343.73 L535.4,342.68 L536.8,341.58 L538.2,340.41 L539.5,339.16 L540.9,337.82 L542.3,336.38 L543.6,334.82 L545.0,333.09 L546.4,330.75 L547.8,326.47 L549.1,321.21 L550.5,315.33 L551.9,309.05 L553.3,302.51 L554.6,295.84 L556.0,289.15 L557.4,282.53 L558.8,276.07 L560.1,269.86 L561.5,263.99 L562.9,258.57 L564.2,253.68 L565.6,249.45 L567.0,246.05 L568.4,243.79 L569.7,243.40 L571.1,243.40 L572.5,243.40" stroke="#4456A3" stroke-width="1.85"/>
<path d="M400.8,243.40 L402.2,243.40 L403.6,243.40 L404.9,243.56 L406.3,245.50 L407.7,248.60 L409.1,252.56 L410.4,257.17 L411.8,262.32 L413.2,267.91 L414.6,273.84 L415.9,280.04 L417.3,286.41 L418.7,292.89 L420.0,299.36 L421.4,305.77 L422.8,311.99 L424.2,317.91 L425.5,323.36 L426.9,328.14 L428.3,331.75 L429.7,333.59 L431.0,335.20 L432.4,336.67 L433.8,338.02 L435.2,339.28 L436.5,340.47 L437.9,341.57 L439.3,342.62 L440.6,343.61 L442.0,344.54 L443.4,345.42 L444.8,346.26 L446.1,347.05 L447.5,347.81 L448.9,348.52 L450.3,349.20 L451.6,349.84 L453.0,350.45 L454.4,351.03 L455.8,351.58 L457.1,352.09 L458.5,352.57 L459.9,353.04 L461.2,353.47 L462.6,353.87 L464.0,354.25 L465.4,354.60 L466.7,354.93 L468.1,355.24 L469.5,355.52 L470.9,355.78 L472.2,356.01 L473.6,356.22 L475.0,356.41 L476.4,356.57 L477.7,356.72 L479.1,356.85 L480.5,356.95 L481.8,357.02 L483.2,357.08 L484.6,357.12 L486.0,357.13 L487.3,357.13 L488.7,357.10 L490.1,357.05 L491.5,356.98 L492.8,356.88 L494.2,356.77 L495.6,356.64 L497.0,356.48 L498.3,356.30 L499.7,356.09 L501.1,355.87 L502.4,355.62 L503.8,355.35 L505.2,355.05 L506.6,354.73 L507.9,354.39 L509.3,354.02 L510.7,353.62 L512.1,353.20 L513.4,352.75 L514.8,352.28 L516.2,351.77 L517.6,351.24 L518.9,350.67 L520.3,350.08 L521.7,349.45 L523.0,348.79 L524.4,348.08 L525.8,347.35 L527.2,346.57 L528.5,345.75 L529.9,344.88 L531.3,343.97 L532.7,343.00 L534.0,341.98 L535.4,340.90 L536.8,339.74 L538.2,338.51 L539.5,337.19 L540.9,335.77 L542.3,334.22 L543.6,332.49 L545.0,329.69 L546.4,325.27 L547.8,320.05 L549.1,314.28 L550.5,308.16 L551.9,301.82 L553.3,295.35 L554.6,288.86 L556.0,282.44 L557.4,276.17 L558.8,270.12 L560.1,264.40 L561.5,259.07 L562.9,254.23 L564.2,250.02 L565.6,246.56 L567.0,244.12 L568.4,243.40 L569.7,243.40 L571.1,243.40" stroke="#4456A3" stroke-width="1.85"/>
<path d="M402.2,243.40 L403.6,243.40 L404.9,243.40 L406.3,243.66 L407.7,245.64 L409.1,248.70 L410.4,252.56 L411.8,257.03 L413.2,262.01 L414.6,267.42 L415.9,273.14 L417.3,279.12 L418.7,285.26 L420.0,291.51 L421.4,297.77 L422.8,303.98 L424.2,310.03 L425.5,315.83 L426.9,321.26 L428.3,326.14 L429.7,330.21 L431.0,332.66 L432.4,334.29 L433.8,335.76 L435.2,337.12 L436.5,338.37 L437.9,339.55 L439.3,340.64 L440.6,341.68 L442.0,342.65 L443.4,343.57 L444.8,344.44 L446.1,345.26 L447.5,346.04 L448.9,346.78 L450.3,347.48 L451.6,348.14 L453.0,348.77 L454.4,349.36 L455.8,349.92 L457.1,350.45 L458.5,350.95 L459.9,351.42 L461.2,351.86 L462.6,352.27 L464.0,352.66 L465.4,353.02 L466.7,353.36 L468.1,353.67 L469.5,353.96 L470.9,354.22 L472.2,354.46 L473.6,354.68 L475.0,354.87 L476.4,355.04 L477.7,355.19 L479.1,355.32 L480.5,355.41 L481.8,355.50 L483.2,355.55 L484.6,355.59 L486.0,355.61 L487.3,355.60 L488.7,355.57 L490.1,355.52 L491.5,355.45 L492.8,355.35 L494.2,355.24 L495.6,355.10 L497.0,354.94 L498.3,354.75 L499.7,354.54 L501.1,354.32 L502.4,354.07 L503.8,353.79 L505.2,353.48 L506.6,353.15 L507.9,352.80 L509.3,352.42 L510.7,352.02 L512.1,351.59 L513.4,351.13 L514.8,350.64 L516.2,350.12 L517.6,349.57 L518.9,348.99 L520.3,348.38 L521.7,347.73 L523.0,347.05 L524.4,346.33 L525.8,345.56 L527.2,344.76 L528.5,343.90 L529.9,343.01 L531.3,342.05 L532.7,341.04 L534.0,339.97 L535.4,338.83 L536.8,337.61 L538.2,336.29 L539.5,334.86 L540.9,333.30 L542.3,331.41 L543.6,327.80 L545.0,323.19 L546.4,317.95 L547.8,312.26 L549.1,306.30 L550.5,300.14 L551.9,293.89 L553.3,287.63 L554.6,281.44 L556.0,275.38 L557.4,269.56 L558.8,264.02 L560.1,258.87 L561.5,254.19 L562.9,250.08 L564.2,246.69 L565.6,244.24 L567.0,243.40 L568.4,243.40 L569.7,243.40" stroke="#4456A3" stroke-width="1.85"/>
<path d="M403.6,243.40 L404.9,243.40 L406.3,243.40 L407.7,243.60 L409.1,245.43 L410.4,248.33 L411.8,251.99 L413.2,256.24 L414.6,260.99 L415.9,266.14 L417.3,271.60 L418.7,277.30 L420.0,283.19 L421.4,289.17 L422.8,295.20 L424.2,301.19 L425.5,307.08 L426.9,312.77 L428.3,318.18 L429.7,323.17 L431.0,327.58 L432.4,331.11 L433.8,333.04 L435.2,334.55 L436.5,335.92 L437.9,337.19 L439.3,338.36 L440.6,339.46 L442.0,340.49 L443.4,341.46 L444.8,342.37 L446.1,343.23 L447.5,344.04 L448.9,344.81 L450.3,345.53 L451.6,346.22 L453.0,346.88 L454.4,347.48 L455.8,348.06 L457.1,348.61 L458.5,349.13 L459.9,349.61 L461.2,350.06 L462.6,350.49 L464.0,350.89 L465.4,351.26 L466.7,351.61 L468.1,351.93 L469.5,352.22 L470.9,352.49 L472.2,352.74 L473.6,352.96 L475.0,353.16 L476.4,353.33 L477.7,353.48 L479.1,353.61 L480.5,353.72 L481.8,353.80 L483.2,353.86 L484.6,353.90 L486.0,353.92 L487.3,353.90 L488.7,353.88 L490.1,353.82 L491.5,353.75 L492.8,353.65 L494.2,353.53 L495.6,353.39 L497.0,353.23 L498.3,353.04 L499.7,352.83 L501.1,352.59 L502.4,352.33 L503.8,352.04 L505.2,351.73 L506.6,351.40 L507.9,351.03 L509.3,350.65 L510.7,350.23 L512.1,349.79 L513.4,349.31 L514.8,348.81 L516.2,348.28 L517.6,347.71 L518.9,347.11 L520.3,346.48 L521.7,345.81 L523.0,345.09 L524.4,344.34 L525.8,343.55 L527.2,342.70 L528.5,341.81 L529.9,340.87 L531.3,339.86 L532.7,338.78 L534.0,337.64 L535.4,336.41 L536.8,335.09 L538.2,333.63 L539.5,332.02 L540.9,329.06 L542.3,324.92 L543.6,320.13 L545.0,314.87 L546.4,309.27 L547.8,303.45 L549.1,297.49 L550.5,291.47 L551.9,285.45 L553.3,279.52 L554.6,273.74 L556.0,268.18 L557.4,262.90 L558.8,258.00 L560.1,253.54 L561.5,249.64 L562.9,246.43 L564.2,244.14 L565.6,243.40 L567.0,243.40 L568.4,243.40" stroke="#4456A3" stroke-width="1.85"/>
<path d="M404.9,243.40 L406.3,243.40 L407.7,243.40 L409.1,243.44 L410.4,244.93 L411.8,247.53 L413.2,250.89 L414.6,254.84 L415.9,259.29 L417.3,264.12 L418.7,269.26 L420.0,274.66 L421.4,280.24 L422.8,285.93 L424.2,291.70 L425.5,297.46 L426.9,303.15 L428.3,308.71 L429.7,314.06 L431.0,319.11 L432.4,323.76 L433.8,327.87 L435.2,331.15 L436.5,332.97 L437.9,334.39 L439.3,335.68 L440.6,336.88 L442.0,337.99 L443.4,339.03 L444.8,340.00 L446.1,340.91 L447.5,341.76 L448.9,342.57 L450.3,343.34 L451.6,344.06 L453.0,344.74 L454.4,345.38 L455.8,345.98 L457.1,346.55 L458.5,347.09 L459.9,347.59 L461.2,348.07 L462.6,348.51 L464.0,348.91 L465.4,349.30 L466.7,349.66 L468.1,349.99 L469.5,350.29 L470.9,350.57 L472.2,350.82 L473.6,351.05 L475.0,351.26 L476.4,351.44 L477.7,351.59 L479.1,351.72 L480.5,351.83 L481.8,351.92 L483.2,351.98 L484.6,352.02 L486.0,352.03 L487.3,352.03 L488.7,352.00 L490.1,351.94 L491.5,351.87 L492.8,351.77 L494.2,351.65 L495.6,351.50 L497.0,351.33 L498.3,351.13 L499.7,350.91 L501.1,350.67 L502.4,350.40 L503.8,350.11 L505.2,349.79 L506.6,349.44 L507.9,349.07 L509.3,348.67 L510.7,348.23 L512.1,347.78 L513.4,347.28 L514.8,346.76 L516.2,346.20 L517.6,345.61 L518.9,344.99 L520.3,344.32 L521.7,343.62 L523.0,342.87 L524.4,342.08 L525.8,341.24 L527.2,340.35 L528.5,339.40 L529.9,338.39 L531.3,337.31 L532.7,336.15 L534.0,334.89 L535.4,333.52 L536.8,331.99 L538.2,329.24 L539.5,325.40 L540.9,320.93 L542.3,316.02 L543.6,310.77 L545.0,305.28 L546.4,299.63 L547.8,293.89 L549.1,288.12 L550.5,282.39 L551.9,276.75 L553.3,271.28 L554.6,266.04 L556.0,261.07 L557.4,256.48 L558.8,252.33 L560.1,248.73 L561.5,245.81 L562.9,243.83 L564.2,243.40 L565.6,243.40 L567.0,243.40" stroke="#4456A3" stroke-width="1.85"/>
<path d="M407.7,243.40 L409.1,243.40 L410.4,243.40 L411.8,244.23 L413.2,246.40 L414.6,249.36 L415.9,252.93 L417.3,256.98 L418.7,261.44 L420.0,266.21 L421.4,271.24 L422.8,276.47 L424.2,281.84 L425.5,287.30 L426.9,292.78 L428.3,298.25 L429.7,303.63 L431.0,308.88 L432.4,313.92 L433.8,318.70 L435.2,323.11 L436.5,327.05 L437.9,330.34 L439.3,332.43 L440.6,333.80 L442.0,335.04 L443.4,336.18 L444.8,337.24 L446.1,338.23 L447.5,339.15 L448.9,340.02 L450.3,340.84 L451.6,341.60 L453.0,342.32 L454.4,342.99 L455.8,343.63 L457.1,344.23 L458.5,344.79 L459.9,345.32 L461.2,345.81 L462.6,346.27 L464.0,346.70 L465.4,347.11 L466.7,347.48 L468.1,347.82 L469.5,348.14 L470.9,348.43 L472.2,348.69 L473.6,348.93 L475.0,349.14 L476.4,349.32 L477.7,349.49 L479.1,349.62 L480.5,349.74 L481.8,349.82 L483.2,349.89 L484.6,349.93 L486.0,349.95 L487.3,349.94 L488.7,349.91 L490.1,349.85 L491.5,349.77 L492.8,349.67 L494.2,349.54 L495.6,349.39 L497.0,349.21 L498.3,349.01 L499.7,348.79 L501.1,348.53 L502.4,348.25 L503.8,347.94 L505.2,347.61 L506.6,347.25 L507.9,346.86 L509.3,346.44 L510.7,345.99 L512.1,345.51 L513.4,344.99 L514.8,344.44 L516.2,343.86 L517.6,343.25 L518.9,342.58 L520.3,341.88 L521.7,341.13 L523.0,340.34 L524.4,339.49 L525.8,338.59 L527.2,337.63 L528.5,336.60 L529.9,335.49 L531.3,334.28 L532.7,332.96 L534.0,331.34 L535.4,328.39 L536.8,324.66 L538.2,320.42 L539.5,315.77 L540.9,310.82 L542.3,305.64 L543.6,300.31 L545.0,294.86 L546.4,289.39 L547.8,283.91 L549.1,278.50 L550.5,273.21 L551.9,268.10 L553.3,263.21 L554.6,258.64 L556.0,254.42 L557.4,250.65 L558.8,247.44 L560.1,244.94 L561.5,243.46 L562.9,243.40 L564.2,243.40 L565.6,243.40" stroke="#4456A3" stroke-width="1.85"/>
<path d="M409.1,243.40 L410.4,243.40 L411.8,243.40 L413.2,243.55 L414.6,245.08 L415.9,247.53 L417.3,250.61 L418.7,254.21 L420.0,258.22 L421.4,262.56 L422.8,267.18 L424.2,272.01 L425.5,277.00 L426.9,282.10 L428.3,287.27 L429.7,292.44 L431.0,297.59 L432.4,302.66 L433.8,307.61 L435.2,312.39 L436.5,316.92 L437.9,321.17 L439.3,325.04 L440.6,328.44 L442.0,331.18 L443.4,332.75 L444.8,333.96 L446.1,335.08 L447.5,336.11 L448.9,337.05 L450.3,337.95 L451.6,338.78 L453.0,339.55 L454.4,340.27 L455.8,340.95 L457.1,341.60 L458.5,342.19 L459.9,342.75 L461.2,343.27 L462.6,343.76 L464.0,344.22 L465.4,344.64 L466.7,345.03 L468.1,345.40 L469.5,345.72 L470.9,346.03 L472.2,346.31 L473.6,346.55 L475.0,346.77 L476.4,346.97 L477.7,347.14 L479.1,347.28 L480.5,347.40 L481.8,347.49 L483.2,347.56 L484.6,347.61 L486.0,347.62 L487.3,347.61 L488.7,347.58 L490.1,347.52 L491.5,347.44 L492.8,347.33 L494.2,347.20 L495.6,347.03 L497.0,346.85 L498.3,346.64 L499.7,346.40 L501.1,346.14 L502.4,345.85 L503.8,345.52 L505.2,345.17 L506.6,344.79 L507.9,344.38 L509.3,343.93 L510.7,343.46 L512.1,342.95 L513.4,342.41 L514.8,341.82 L516.2,341.21 L517.6,340.54 L518.9,339.83 L520.3,339.07 L521.7,338.27 L523.0,337.40 L524.4,336.47 L525.8,335.48 L527.2,334.40 L528.5,333.22 L529.9,331.91 L531.3,329.57 L532.7,326.40 L534.0,322.69 L535.4,318.57 L536.8,314.14 L538.2,309.45 L539.5,304.57 L540.9,299.54 L542.3,294.41 L543.6,289.23 L545.0,284.06 L546.4,278.93 L547.8,273.89 L549.1,268.99 L550.5,264.29 L551.9,259.83 L553.3,255.69 L554.6,251.93 L556.0,248.64 L557.4,245.92 L558.8,243.99 L560.1,243.40 L561.5,243.40 L562.9,243.40" stroke="#4456A3" stroke-width="1.85"/>
<path d="M411.8,243.40 L413.2,243.40 L414.6,243.40 L415.9,243.86 L417.3,245.61 L418.7,248.10 L420.0,251.14 L421.4,254.63 L422.8,258.47 L424.2,262.61 L425.5,266.97 L426.9,271.52 L428.3,276.22 L429.7,281.00 L431.0,285.85 L432.4,290.69 L433.8,295.52 L435.2,300.27 L436.5,304.93 L437.9,309.43 L439.3,313.76 L440.6,317.85 L442.0,321.67 L443.4,325.15 L444.8,328.22 L446.1,330.77 L447.5,332.38 L448.9,333.50 L450.3,334.51 L451.6,335.45 L453.0,336.31 L454.4,337.11 L455.8,337.86 L457.1,338.56 L458.5,339.21 L459.9,339.82 L461.2,340.38 L462.6,340.90 L464.0,341.39 L465.4,341.84 L466.7,342.26 L468.1,342.65 L469.5,343.00 L470.9,343.32 L472.2,343.62 L473.6,343.88 L475.0,344.11 L476.4,344.32 L477.7,344.50 L479.1,344.65 L480.5,344.78 L481.8,344.88 L483.2,344.94 L484.6,344.99 L486.0,345.00 L487.3,345.00 L488.7,344.97 L490.1,344.90 L491.5,344.81 L492.8,344.70 L494.2,344.56 L495.6,344.40 L497.0,344.20 L498.3,343.97 L499.7,343.72 L501.1,343.44 L502.4,343.12 L503.8,342.78 L505.2,342.41 L506.6,342.01 L507.9,341.57 L509.3,341.10 L510.7,340.58 L512.1,340.03 L513.4,339.44 L514.8,338.81 L516.2,338.13 L517.6,337.40 L518.9,336.62 L520.3,335.78 L521.7,334.87 L523.0,333.89 L524.4,332.82 L525.8,331.53 L527.2,329.27 L528.5,326.38 L529.9,323.04 L531.3,319.34 L532.7,315.34 L534.0,311.10 L535.4,306.66 L536.8,302.05 L538.2,297.34 L539.5,292.53 L540.9,287.69 L542.3,282.84 L543.6,278.03 L545.0,273.30 L546.4,268.69 L547.8,264.24 L549.1,260.01 L550.5,256.05 L551.9,252.42 L553.3,249.20 L554.6,246.49 L556.0,244.42 L557.4,243.40 L558.8,243.40 L560.1,243.40" stroke="#4456A3" stroke-width="1.85"/>
<path d="M414.6,243.40 L415.9,243.40 L417.3,243.40 L418.7,243.96 L420.0,245.66 L421.4,248.03 L422.8,250.89 L424.2,254.15 L425.5,257.73 L426.9,261.57 L428.3,265.63 L429.7,269.85 L431.0,274.19 L432.4,278.62 L433.8,283.09 L435.2,287.59 L436.5,292.06 L437.9,296.49 L439.3,300.82 L440.6,305.06 L442.0,309.15 L443.4,313.07 L444.8,316.79 L446.1,320.27 L447.5,323.48 L448.9,326.40 L450.3,328.94 L451.6,331.03 L453.0,332.35 L454.4,333.30 L455.8,334.17 L457.1,334.96 L458.5,335.70 L459.9,336.38 L461.2,337.01 L462.6,337.58 L464.0,338.12 L465.4,338.62 L466.7,339.08 L468.1,339.49 L469.5,339.88 L470.9,340.23 L472.2,340.55 L473.6,340.83 L475.0,341.09 L476.4,341.31 L477.7,341.50 L479.1,341.66 L480.5,341.79 L481.8,341.90 L483.2,341.98 L484.6,342.03 L486.0,342.04 L487.3,342.04 L488.7,342.00 L490.1,341.93 L491.5,341.84 L492.8,341.72 L494.2,341.57 L495.6,341.38 L497.0,341.17 L498.3,340.93 L499.7,340.66 L501.1,340.35 L502.4,340.02 L503.8,339.64 L505.2,339.24 L506.6,338.80 L507.9,338.31 L509.3,337.79 L510.7,337.23 L512.1,336.62 L513.4,335.96 L514.8,335.25 L516.2,334.48 L517.6,333.64 L518.9,332.72 L520.3,331.65 L521.7,329.79 L523.0,327.41 L524.4,324.63 L525.8,321.53 L527.2,318.14 L528.5,314.50 L529.9,310.66 L531.3,306.63 L532.7,302.45 L534.0,298.14 L535.4,293.75 L536.8,289.29 L538.2,284.80 L539.5,280.32 L540.9,275.86 L542.3,271.48 L543.6,267.21 L545.0,263.09 L546.4,259.16 L547.8,255.47 L549.1,252.08 L550.5,249.06 L551.9,246.50 L553.3,244.51 L554.6,243.41 L556.0,243.40 L557.4,243.40 L558.8,243.40" stroke="#4456A3" stroke-width="1.85"/>
<path d="M367.9,243.40 L369.2,243.40 L370.6,243.40 L372.0,243.40 L373.4,243.40 L374.7,243.40 L376.1,243.40 L377.5,243.40 L378.8,243.40 L380.2,243.40 L381.6,243.40 L383.0,243.40 L384.3,243.40 L385.7,243.40 L387.1,243.40 L388.5,243.40 L389.8,243.40 L391.2,243.40 L392.6,243.40 L394.0,243.40 L395.3,243.40 L396.7,243.40 L398.1,243.40 L399.4,243.40 L400.8,243.40 L402.2,243.40 L403.6,243.40 L404.9,243.40 L406.3,243.40 L407.7,243.40 L409.1,243.40 L410.4,243.40 L411.8,243.40 L413.2,243.40 L414.6,243.40 L415.9,243.40 L417.3,243.40 L418.7,243.40 L420.0,243.40 L421.4,243.76 L422.8,245.22 L424.2,247.33 L425.5,249.89 L426.9,252.83 L428.3,256.06 L429.7,259.55 L431.0,263.22 L432.4,267.04 L433.8,270.99 L435.2,275.02 L436.5,279.10 L437.9,283.20 L439.3,287.30 L440.6,291.35 L442.0,295.36 L443.4,299.28 L444.8,303.09 L446.1,306.78 L447.5,310.33 L448.9,313.70 L450.3,316.90 L451.6,319.89 L453.0,322.66 L454.4,325.19 L455.8,327.46 L457.1,329.43 L458.5,331.05 L459.9,332.14 L461.2,332.91 L462.6,333.59 L464.0,334.22 L465.4,334.79 L466.7,335.31 L468.1,335.79 L469.5,336.22 L470.9,336.61 L472.2,336.97 L473.6,337.29 L475.0,337.57 L476.4,337.82 L477.7,338.03 L479.1,338.21 L480.5,338.36 L481.8,338.47 L483.2,338.55 L484.6,338.61 L486.0,338.63 L487.3,338.62 L488.7,338.58 L490.1,338.50 L491.5,338.40 L492.8,338.27 L494.2,338.10 L495.6,337.90 L497.0,337.66 L498.3,337.40 L499.7,337.09 L501.1,336.75 L502.4,336.38 L503.8,335.96 L505.2,335.50 L506.6,335.00 L507.9,334.44 L509.3,333.84 L510.7,333.18 L512.1,332.44 L513.4,331.55 L514.8,330.09 L516.2,328.24 L517.6,326.09 L518.9,323.65 L520.3,320.97 L521.7,318.06 L523.0,314.95 L524.4,311.63 L525.8,308.15 L527.2,304.51 L528.5,300.74 L529.9,296.86 L531.3,292.88 L532.7,288.84 L534.0,284.76 L535.4,280.66 L536.8,276.57 L538.2,272.52 L539.5,268.53 L540.9,264.66 L542.3,260.92 L543.6,257.36 L545.0,254.02 L546.4,250.96 L547.8,248.25 L549.1,245.96 L550.5,244.22 L551.9,243.40 L553.3,243.40 L554.6,243.40 L556.0,243.40 L557.4,243.40 L558.8,243.40 L560.1,243.40 L561.5,243.40 L562.9,243.40 L564.2,243.40 L565.6,243.40 L567.0,243.40 L568.4,243.40 L569.7,243.40 L571.1,243.40 L572.5,243.40 L573.9,243.40 L575.2,243.40 L576.6,243.40 L578.0,243.40 L579.4,243.40 L580.7,243.40 L582.1,243.40 L583.5,243.40 L584.8,243.40 L586.2,243.40 L587.6,243.40 L589.0,243.40 L590.3,243.40" stroke="#4456A3" stroke-width="1.85"/>
<path d="M424.2,243.40 L425.5,243.40 L426.9,243.40 L428.3,243.46 L429.7,244.41 L431.0,245.96 L432.4,247.92 L433.8,250.19 L435.2,252.71 L436.5,255.43 L437.9,258.30 L439.3,261.31 L440.6,264.41 L442.0,267.57 L443.4,270.78 L444.8,274.01 L446.1,277.24 L447.5,280.44 L448.9,283.61 L450.3,286.73 L451.6,289.78 L453.0,292.75 L454.4,295.63 L455.8,298.40 L457.1,301.07 L458.5,303.62 L459.9,306.05 L461.2,308.34 L462.6,310.50 L464.0,312.52 L465.4,314.40 L466.7,316.14 L468.1,317.75 L469.5,319.21 L470.9,320.54 L472.2,321.72 L473.6,322.79 L475.0,323.71 L476.4,324.53 L477.7,325.22 L479.1,325.80 L480.5,326.26 L481.8,326.63 L483.2,326.89 L484.6,327.06 L486.0,327.12 L487.3,327.09 L488.7,326.96 L490.1,326.74 L491.5,326.42 L492.8,325.99 L494.2,325.46 L495.6,324.81 L497.0,324.04 L498.3,323.16 L499.7,322.15 L501.1,321.00 L502.4,319.73 L503.8,318.32 L505.2,316.77 L506.6,315.08 L507.9,313.25 L509.3,311.28 L510.7,309.18 L512.1,306.93 L513.4,304.56 L514.8,302.05 L516.2,299.43 L517.6,296.69 L518.9,293.86 L520.3,290.92 L521.7,287.90 L523.0,284.80 L524.4,281.65 L525.8,278.45 L527.2,275.24 L528.5,272.01 L529.9,268.79 L531.3,265.61 L532.7,262.48 L534.0,259.43 L535.4,256.50 L536.8,253.72 L538.2,251.12 L539.5,248.74 L540.9,246.66 L542.3,244.94 L543.6,243.72 L545.0,243.40 L546.4,243.40 L547.8,243.40" stroke="#7DBA55" stroke-width="1.85"/>
<path d="M429.7,243.40 L431.0,243.40 L432.4,243.40 L433.8,243.97 L435.2,245.19 L436.5,246.80 L437.9,248.71 L439.3,250.83 L440.6,253.14 L442.0,255.59 L443.4,258.15 L444.8,260.78 L446.1,263.47 L447.5,266.20 L448.9,268.95 L450.3,271.69 L451.6,274.41 L453.0,277.09 L454.4,279.73 L455.8,282.31 L457.1,284.81 L458.5,287.24 L459.9,289.58 L461.2,291.82 L462.6,293.96 L464.0,296.00 L465.4,297.91 L466.7,299.72 L468.1,301.40 L469.5,302.96 L470.9,304.40 L472.2,305.72 L473.6,306.91 L475.0,307.97 L476.4,308.92 L477.7,309.73 L479.1,310.43 L480.5,311.00 L481.8,311.44 L483.2,311.77 L484.6,311.97 L486.0,312.06 L487.3,312.02 L488.7,311.86 L490.1,311.58 L491.5,311.18 L492.8,310.66 L494.2,310.01 L495.6,309.25 L497.0,308.35 L498.3,307.33 L499.7,306.18 L501.1,304.92 L502.4,303.52 L503.8,302.01 L505.2,300.38 L506.6,298.62 L507.9,296.74 L509.3,294.75 L510.7,292.65 L512.1,290.44 L513.4,288.14 L514.8,285.75 L516.2,283.27 L517.6,280.71 L518.9,278.10 L520.3,275.43 L521.7,272.73 L523.0,269.99 L524.4,267.24 L525.8,264.51 L527.2,261.80 L528.5,259.14 L529.9,256.54 L531.3,254.05 L532.7,251.69 L534.0,249.49 L535.4,247.50 L536.8,245.76 L538.2,244.38 L539.5,243.48 L540.9,243.40 L542.3,243.40 L543.6,243.40" stroke="#7DBA55" stroke-width="1.85"/>
<path d="M433.8,243.40 L435.2,243.40 L436.5,243.40 L437.9,243.42 L439.3,244.07 L440.6,245.19 L442.0,246.62 L443.4,248.26 L444.8,250.07 L446.1,252.03 L447.5,254.08 L448.9,256.20 L450.3,258.38 L451.6,260.58 L453.0,262.81 L454.4,265.02 L455.8,267.23 L457.1,269.39 L458.5,271.52 L459.9,273.59 L461.2,275.60 L462.6,277.54 L464.0,279.40 L465.4,281.17 L466.7,282.85 L468.1,284.43 L469.5,285.92 L470.9,287.29 L472.2,288.56 L473.6,289.71 L475.0,290.75 L476.4,291.68 L477.7,292.48 L479.1,293.17 L480.5,293.74 L481.8,294.19 L483.2,294.51 L484.6,294.72 L486.0,294.80 L487.3,294.77 L488.7,294.60 L490.1,294.32 L491.5,293.92 L492.8,293.40 L494.2,292.76 L495.6,292.00 L497.0,291.12 L498.3,290.12 L499.7,289.01 L501.1,287.78 L502.4,286.45 L503.8,285.01 L505.2,283.47 L506.6,281.82 L507.9,280.08 L509.3,278.26 L510.7,276.35 L512.1,274.37 L513.4,272.31 L514.8,270.21 L516.2,268.05 L517.6,265.87 L518.9,263.65 L520.3,261.43 L521.7,259.21 L523.0,257.02 L524.4,254.87 L525.8,252.79 L527.2,250.80 L528.5,248.93 L529.9,247.22 L531.3,245.71 L532.7,244.46 L534.0,243.59 L535.4,243.40 L536.8,243.40 L538.2,243.40" stroke="#7DBA55" stroke-width="1.85"/>
<path d="M440.6,243.40 L442.0,243.40 L443.4,243.40 L444.8,243.66 L446.1,244.42 L447.5,245.47 L448.9,246.70 L450.3,248.08 L451.6,249.57 L453.0,251.13 L454.4,252.76 L455.8,254.41 L457.1,256.08 L458.5,257.75 L459.9,259.41 L461.2,261.04 L462.6,262.64 L464.0,264.18 L465.4,265.68 L466.7,267.11 L468.1,268.47 L469.5,269.75 L470.9,270.94 L472.2,272.05 L473.6,273.08 L475.0,274.00 L476.4,274.82 L477.7,275.55 L479.1,276.17 L480.5,276.68 L481.8,277.09 L483.2,277.38 L484.6,277.57 L486.0,277.65 L487.3,277.61 L488.7,277.47 L490.1,277.21 L491.5,276.85 L492.8,276.38 L494.2,275.80 L495.6,275.11 L497.0,274.33 L498.3,273.43 L499.7,272.46 L501.1,271.38 L502.4,270.21 L503.8,268.96 L505.2,267.63 L506.6,266.22 L507.9,264.75 L509.3,263.23 L510.7,261.65 L512.1,260.03 L513.4,258.38 L514.8,256.71 L516.2,255.04 L517.6,253.38 L518.9,251.75 L520.3,250.16 L521.7,248.64 L523.0,247.21 L524.4,245.91 L525.8,244.79 L527.2,243.91 L528.5,243.40 L529.9,243.40 L531.3,243.40" stroke="#7DBA55" stroke-width="1.85"/>
<path d="M447.5,243.40 L448.9,243.40 L450.3,243.40 L451.6,243.44 L453.0,243.89 L454.4,244.57 L455.8,245.41 L457.1,246.35 L458.5,247.36 L459.9,248.42 L461.2,249.52 L462.6,250.62 L464.0,251.72 L465.4,252.81 L466.7,253.87 L468.1,254.90 L469.5,255.88 L470.9,256.81 L472.2,257.68 L473.6,258.48 L475.0,259.22 L476.4,259.88 L477.7,260.47 L479.1,260.97 L480.5,261.39 L481.8,261.72 L483.2,261.96 L484.6,262.11 L486.0,262.18 L487.3,262.15 L488.7,262.02 L490.1,261.82 L491.5,261.52 L492.8,261.14 L494.2,260.67 L495.6,260.11 L497.0,259.48 L498.3,258.77 L499.7,257.99 L501.1,257.15 L502.4,256.24 L503.8,255.27 L505.2,254.27 L506.6,253.22 L507.9,252.14 L509.3,251.04 L510.7,249.93 L512.1,248.84 L513.4,247.76 L514.8,246.73 L516.2,245.75 L517.6,244.87 L518.9,244.12 L520.3,243.57 L521.7,243.40 L523.0,243.40 L524.4,243.40" stroke="#7DBA55" stroke-width="1.85"/>
<path d="M458.5,243.40 L459.9,243.40 L461.2,243.40 L462.6,243.59 L464.0,243.96 L465.4,244.40 L466.7,244.90 L468.1,245.42 L469.5,245.96 L470.9,246.50 L472.2,247.02 L473.6,247.51 L475.0,247.97 L476.4,248.40 L477.7,248.78 L479.1,249.11 L480.5,249.39 L481.8,249.61 L483.2,249.78 L484.6,249.88 L486.0,249.92 L487.3,249.90 L488.7,249.83 L490.1,249.68 L491.5,249.48 L492.8,249.22 L494.2,248.91 L495.6,248.55 L497.0,248.14 L498.3,247.68 L499.7,247.21 L501.1,246.69 L502.4,246.16 L503.8,245.63 L505.2,245.09 L506.6,244.58 L507.9,244.12 L509.3,243.72 L510.7,243.44 L512.1,243.40 L513.4,243.40 L514.8,243.40" stroke="#7DBA55" stroke-width="1.85"/>
<path d="M367.9,243.40 L369.2,243.40 L370.6,243.40 L372.0,243.40 L373.4,243.40 L374.7,243.40 L376.1,243.40 L377.5,243.40 L378.8,243.40 L380.2,243.40 L381.6,243.40 L383.0,243.40 L384.3,243.40 L385.7,243.40 L387.1,243.40 L388.5,243.40 L389.8,243.40 L391.2,243.40 L392.6,243.40 L394.0,243.40 L395.3,243.40 L396.7,243.40 L398.1,243.40 L399.4,243.40 L400.8,243.40 L402.2,243.40 L403.6,243.40 L404.9,243.40 L406.3,243.40 L407.7,243.40 L409.1,243.40 L410.4,243.40 L411.8,243.40 L413.2,243.40 L414.6,243.40 L415.9,243.40 L417.3,243.40 L418.7,243.40 L420.0,243.40 L421.4,243.40 L422.8,243.40 L424.2,243.40 L425.5,243.40 L426.9,243.40 L428.3,243.40 L429.7,243.40 L431.0,243.40 L432.4,243.40 L433.8,243.40 L435.2,243.40 L436.5,243.40 L437.9,243.40 L439.3,243.40 L440.6,243.40 L442.0,243.40 L443.4,243.40 L444.8,243.40 L446.1,243.40 L447.5,243.40 L448.9,243.40 L450.3,243.40 L451.6,243.40 L453.0,243.40 L454.4,243.40 L455.8,243.40 L457.1,243.40 L458.5,243.40 L459.9,243.40 L461.2,243.40 L462.6,243.40 L464.0,243.40 L465.4,243.40 L466.7,243.40 L468.1,243.40 L469.5,243.40 L470.9,243.40 L472.2,243.40 L473.6,243.40 L475.0,243.40 L476.4,243.40 L477.7,243.40 L479.1,243.40 L480.5,243.40 L481.8,243.40 L483.2,243.40 L484.6,243.40 L486.0,243.40 L487.3,243.40 L488.7,243.40 L490.1,243.40 L491.5,243.40 L492.8,243.40 L494.2,243.40 L495.6,243.40 L497.0,243.40 L498.3,243.40 L499.7,243.40 L501.1,243.40 L502.4,243.40 L503.8,243.40 L505.2,243.40 L506.6,243.40 L507.9,243.40 L509.3,243.40 L510.7,243.40 L512.1,243.40 L513.4,243.40 L514.8,243.40 L516.2,243.40 L517.6,243.40 L518.9,243.40 L520.3,243.40 L521.7,243.40 L523.0,243.40 L524.4,243.40 L525.8,243.40 L527.2,243.40 L528.5,243.40 L529.9,243.40 L531.3,243.40 L532.7,243.40 L534.0,243.40 L535.4,243.40 L536.8,243.40 L538.2,243.40 L539.5,243.40 L540.9,243.40 L542.3,243.40 L543.6,243.40 L545.0,243.40 L546.4,243.40 L547.8,243.40 L549.1,243.40 L550.5,243.40 L551.9,243.40 L553.3,243.40 L554.6,243.40 L556.0,243.40 L557.4,243.40 L558.8,243.40 L560.1,243.40 L561.5,243.40 L562.9,243.40 L564.2,243.40 L565.6,243.40 L567.0,243.40 L568.4,243.40 L569.7,243.40 L571.1,243.40 L572.5,243.40 L573.9,243.40 L575.2,243.40 L576.6,243.40 L578.0,243.40 L579.4,243.40 L580.7,243.40 L582.1,243.40 L583.5,243.40 L584.8,243.40 L586.2,243.40 L587.6,243.40 L589.0,243.40 L590.3,243.40" stroke="#7DBA55" stroke-width="1.85"/>
</g>
<rect x="358.5" y="238.5" width="241.0" height="125.0" fill="none" stroke="#000" stroke-width="1.2"/>
<g stroke="#000" stroke-width="1.2" fill="none">
<path d="M386.40,363.5 L592.40,363.5"/>
</g>
<g stroke="#111" stroke-width="1" fill="none">
<path d="M386.5,363.5 v6.0"/>
<path d="M427.5,363.5 v6.0"/>
<path d="M468.5,363.5 v6.0"/>
<path d="M510.5,363.5 v6.0"/>
<path d="M551.5,363.5 v6.0"/>
<path d="M592.5,363.5 v6.0"/>
<path d="M358.5,243.5 h-7.2"/>
<path d="M358.5,275.5 h-7.2"/>
<path d="M358.5,307.5 h-7.2"/>
<path d="M358.5,339.5 h-7.2"/>
</g>
<g font-family="Liberation Sans, sans-serif" font-size="10.4" fill="#000" text-anchor="middle">
<text x="386.40" y="385.5">-0.02</text>
<text x="427.60" y="385.5">-0.01</text>
<text x="468.80" y="385.5">0.00</text>
<text x="510.00" y="385.5">0.01</text>
<text x="551.20" y="385.5">0.02</text>
<text x="592.40" y="385.5">0.03</text>
<text x="479.0" y="409.8">phase</text>
<text transform="translate(343.9,275.33) rotate(-90)">0.995</text>
<text transform="translate(343.9,339.19) rotate(-90)">0.985</text>
<text transform="translate(318.7,301.00) rotate(-90)">flux</text>
</g>
<text font-family="Liberation Sans, sans-serif" font-size="12.5" font-weight="bold" text-anchor="middle" x="479.0" y="226.3">Vary cos(i)</text>
</g>
</svg>
</body></html>
